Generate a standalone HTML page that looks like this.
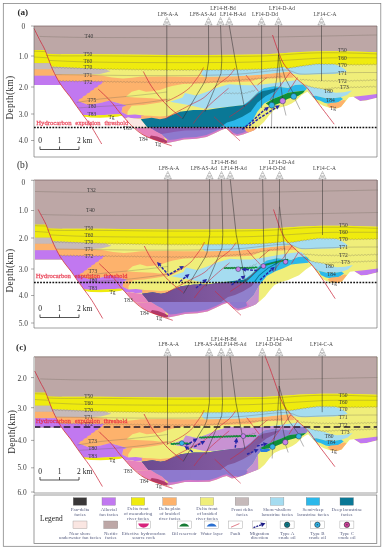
<!DOCTYPE html><html><head><meta charset="utf-8"><title>Figure</title><style>html,body{margin:0;padding:0;background:#fff}svg{display:block}</style></head><body><svg width="384" height="550" viewBox="0 0 384 550" font-family="Liberation Serif, serif"><defs><linearGradient id="dvg" gradientUnits="userSpaceOnUse" x1="140" y1="0" x2="215" y2="0"><stop offset="0" stop-color="#6c4a90"/><stop offset="1" stop-color="#80589e"/></linearGradient></defs>
<rect x="0" y="0" width="384" height="550" fill="#fff"/>
<rect x="3.3" y="3.4" width="377.5" height="542.9" fill="none" stroke="#808080" stroke-width="0.75"/>
<clipPath id="clipa"><polygon points="34.0,26.0 377.0,26.0 377.0,97.7 366.0,100.5 360.0,101.0 356.0,98.5 353.3,96.8 349.0,97.2 345.0,102.0 341.0,107.0 336.7,108.5 330.0,108.0 323.3,105.8 318.5,103.3 312.0,96.5 307.5,91.7 305.0,93.0 301.7,95.0 295.8,100.8 291.7,103.5 286.7,105.8 280.0,107.5 273.5,110.5 269.0,115.5 264.0,122.0 259.0,126.5 254.0,130.3 249.0,132.3 243.0,134.5 237.0,136.0 232.0,133.8 228.0,129.5 226.5,128.2 221.5,130.0 215.3,133.1 206.5,136.9 196.5,138.8 184.0,139.6 175.0,141.5 166.0,143.2 160.0,141.7 152.0,139.0 143.3,135.0 131.7,125.8 125.0,118.5 122.0,115.5 118.0,116.5 112.0,117.2 100.0,117.7 90.0,117.4 83.8,116.5 81.7,113.3 75.0,104.0 70.0,96.7 63.3,88.3 61.2,85.0 34.0,85.0"/></clipPath>
<clipPath id="belowa"><rect x="30" y="127.5" width="350" height="80"/></clipPath>
<g transform="translate(0,0)">
<g clip-path="url(#clipa)">
<rect x="34" y="26" width="343" height="124" fill="#f0ee7a"/>
<polygon points="34.0,26.0 60.0,26.0 62.0,86.0 34.0,86.0" fill="#bda7a6" />
<polygon points="34.0,26.0 377.0,26.0 377.0,52.3 345.0,51.3 321.0,51.2 300.0,52.0 278.0,53.6 262.0,54.4 240.0,54.8 208.0,55.1 166.0,55.0 100.0,54.3 60.0,54.3 46.0,53.8 45.0,50.0 34.0,28.5" fill="#bda7a6" />
<polygon points="46.0,53.8 60.0,54.3 100.0,54.3 166.0,55.0 208.0,55.1 240.0,54.8 262.0,54.4 278.0,53.6 300.0,52.0 321.0,51.2 345.0,51.3 377.0,52.3 377.0,64.4 360.0,64.7 348.0,64.8 334.0,64.2 317.0,64.1 310.0,64.9 300.7,66.2 295.0,67.2 286.0,68.6 284.0,67.0 275.0,68.2 262.0,69.3 240.0,69.8 208.0,70.0 166.0,70.0 100.0,69.0 51.5,67.4 46.7,55.0" fill="#efeb0e" />
<polygon points="34.0,50.0 45.0,50.0 51.0,63.3 34.0,63.3" fill="#efeb0e" />
<polygon points="34.0,63.3 50.0,63.3 53.0,69.2 34.0,69.2" fill="#c6baba" />
<polygon points="34.0,69.2 34.8,68.9 35.6,69.5 36.4,69.5 37.2,68.9 38.0,68.9 38.8,69.5 39.6,69.5 40.4,68.9 41.2,68.9 42.0,69.5 42.8,69.5 43.6,68.9 44.4,68.9 45.2,69.5 46.0,69.5 46.8,68.9 47.6,68.9 48.4,69.5 49.2,69.5 50.0,68.9 50.8,68.9 51.6,69.5 52.4,69.5 56.0,75.8 34.0,75.8" fill="#c6baba" />
<polygon points="34.0,69.2 52.4,69.2 56.0,75.8 34.0,75.8" fill="#fdb26c" />
<polygon points="34.0,75.8 55.8,75.8 61.3,85.2 34.0,85.2" fill="#c178f0" />
<polygon points="51.2,66.5 55.0,74.4 90.0,74.6 100.0,74.0 106.0,72.6 110.5,71.3 107.0,70.0 104.0,69.0 100.0,69.0" fill="#c6baba" />
<polygon points="55.0,74.3 90.0,74.6 102.5,75.8 112.0,77.6 123.0,78.6 132.0,77.8 140.0,76.8 165.0,76.6 183.0,76.7 204.0,76.8 236.0,76.3 260.0,74.8 283.0,72.3 290.0,71.9 294.0,77.5 283.0,78.3 260.0,78.4 250.0,81.5 236.0,82.0 204.0,83.3 183.0,84.0 172.0,86.0 166.7,87.5 160.0,90.0 152.0,91.3 146.0,91.7 139.0,89.7 131.7,91.7 125.8,96.7 135.0,97.5 152.0,98.3 160.0,99.2 166.0,98.5 167.5,100.0 160.0,102.5 143.3,105.0 131.7,105.8 127.5,111.7 127.5,115.0 121.5,112.0 122.5,107.0 126.5,105.5 118.0,103.0 110.5,101.0 106.7,101.8 100.0,103.0 88.0,104.7 77.5,100.8 70.0,96.7 63.3,88.3 57.5,79.2" fill="#fdb26c" />
<polygon points="58.3,81.0 59.1,81.1 59.9,80.6 60.7,80.9 61.5,81.4 62.3,81.1 63.1,80.7 63.9,81.0 64.7,81.5 65.5,81.2 66.3,80.7 67.1,81.0 67.9,81.5 68.7,81.2 69.5,80.7 70.3,81.1 71.1,81.5 71.9,81.2 72.7,80.8 73.5,81.1 74.3,81.6 75.1,81.3 75.9,80.8 76.7,81.1 77.5,81.6 78.3,81.3 79.1,80.8 79.9,81.2 80.7,81.6 81.5,81.3 82.3,80.9 83.1,81.2 83.9,81.7 84.7,81.4 85.5,80.9 86.3,81.2 87.1,81.7 87.9,81.4 88.7,80.9 89.5,81.3 90.3,81.7 91.1,81.4 91.9,81.0 92.7,81.3 93.5,81.8 94.3,81.5 95.1,81.0 95.9,81.3 96.7,81.8 97.5,81.5 98.3,81.0 99.1,81.4 99.9,81.8 100.7,81.5 101.5,81.1 102.3,81.4 103.1,81.9 103.9,81.6 105.3,81.3 101.8,82.7 101.5,84.1 98.0,85.5 97.7,86.8 94.2,88.2 93.9,89.6 90.4,91.0 90.2,92.3 86.7,93.7 86.4,95.1 82.9,96.5 82.6,97.8 79.1,99.2 78.8,100.6 77.5,100.8 88.0,104.7 100.0,103.0 107.0,101.3 110.0,100.5 119.0,111.7 121.5,114.6 118.0,114.3 95.0,115.4 83.0,115.0 81.7,113.3 75.0,104.0 70.0,96.7 63.3,88.3" fill="#c178f0" />
<polygon points="83.0,115.0 95.0,115.4 118.0,114.3 121.5,114.6 122.5,116.0 118.0,116.7 100.0,117.8 90.0,117.5 84.0,116.7" fill="#efeb0e" />
<polygon points="110.5,101.0 118.0,103.0 126.5,105.5 122.5,107.0 121.5,112.0 127.5,115.0 135.0,114.6 143.0,115.5 148.5,117.5 141.7,118.3 134.0,118.4 128.0,117.5 125.0,118.5 119.0,111.7" fill="#c178f0" />
<polygon points="141.0,115.4 150.0,115.8 160.0,116.6 170.0,115.6 178.0,112.6 181.0,111.5 181.0,113.0 170.0,117.0 165.0,119.0 160.0,120.0 151.7,119.0 141.5,119.5" fill="#fdb26c" />
<polygon points="125.0,118.5 128.0,117.5 134.0,118.4 140.8,119.2 147.5,127.6 134.5,128.0 131.7,125.8" fill="#fae6e2" />
<polygon points="203.0,70.0 208.0,70.0 240.0,69.8 262.0,69.3 275.0,68.2 284.0,67.0 289.0,71.5 283.0,72.3 260.0,74.8 236.0,76.3 204.0,76.8 201.0,74.0" fill="#a5dcf0" />
<polygon points="286.0,68.6 295.0,67.2 300.7,66.2 310.0,64.9 317.0,64.1 334.0,64.2 340.0,66.3 345.0,69.3 347.0,71.5 340.0,73.0 334.0,74.0 322.0,74.2 310.0,74.6 300.7,74.8 291.5,73.4" fill="#a5dcf0" />
<polygon points="170.0,101.7 182.5,97.5 185.0,93.0 196.0,95.5 205.0,92.5 216.0,88.0 229.0,84.3 240.0,85.0 250.0,85.2 262.0,84.6 275.0,83.0 288.0,81.2 298.0,80.0 303.0,84.5 295.0,85.0 288.0,88.0 274.0,86.3 264.0,88.0 257.3,92.7 250.0,100.0 244.0,105.0 229.3,106.7 212.7,108.3 204.0,108.6 188.3,105.0" fill="#a5dcf0" />
<polygon points="216.0,127.6 220.0,120.0 232.0,118.0 244.0,104.5 250.0,100.0 257.3,92.7 264.0,88.0 274.0,86.3 288.0,88.0 295.0,85.0 303.0,84.5 307.0,88.5 305.0,90.8 297.0,91.5 288.0,92.7 280.7,96.0 272.3,99.3 264.0,103.5 257.3,111.8 252.3,121.0 245.7,127.6" fill="#2bb8ea" />
<polygon points="140.8,119.2 151.7,117.8 160.0,119.3 165.0,118.3 170.0,116.0 180.0,111.8 193.0,110.0 206.7,110.0 216.0,108.6 229.3,106.7 237.7,105.8 244.3,105.0 249.3,101.7 251.0,100.0 257.3,94.3 262.7,91.0 267.3,90.2 279.0,87.7 274.0,91.8 265.7,96.0 257.3,102.7 250.7,111.8 242.3,116.8 234.0,120.5 227.0,122.5 220.0,127.6 147.5,127.6" fill="#0a7896" />
<polygon points="304.5,84.5 310.0,86.8 318.0,88.3 324.0,89.5 330.0,91.5 336.0,92.8 344.0,92.3 352.0,90.5 347.0,95.0 340.7,97.3 334.0,98.2 325.7,98.2 315.7,95.7 312.0,96.5" fill="#a5dcf0" />
<polygon points="312.0,96.2 315.7,95.7 325.7,98.2 334.0,98.2 340.7,97.3 343.0,99.0 338.0,102.5 331.0,104.0 325.0,103.0 319.8,100.5 316.0,99.5" fill="#2bb8ea" />
<polygon points="326.7,104.8 330.0,102.9 337.0,102.6 343.3,100.0 346.0,100.5 345.0,102.0 341.0,107.0 336.7,108.5 330.0,108.0" fill="#fdb26c" />
<polygon points="353.3,96.8 365.0,95.5 377.0,94.0 377.0,97.7 366.0,100.5 360.0,101.0 356.0,98.5" fill="#c178f0" />
<polygon points="134.5,128.0 150.0,127.6 156.0,131.2 161.3,134.0 164.0,137.0 166.0,143.2 160.0,141.7 152.0,139.0 143.3,135.0" fill="#e884bc" />
<polygon points="151.0,135.4 157.0,136.6 163.0,138.8 167.5,141.0 166.5,143.2 160.0,141.7 152.0,139.0 149.5,137.5" fill="#b03a6a" />
<polygon points="161.3,134.0 156.0,131.2 150.0,127.6 256.0,127.6 256.0,141.0 167.0,143.5 167.0,139.5 164.0,137.0" fill="#d47ac8" />
<polygon points="161.3,134.0 156.0,131.2 150.0,127.6 224.5,127.6 221.5,128.2 215.3,131.2 206.5,135.0 196.5,136.9 184.0,137.7 175.0,139.4 169.0,140.0 166.0,138.0 164.0,136.5" fill="#8e79ce" />
<polygon points="228.3,127.6 229.5,129.2 233.0,132.4 237.0,134.2 243.0,132.7 246.0,131.2 245.0,127.6" fill="#8e79ce" />
<polygon points="150.0,127.6 224.5,127.6 221.5,128.4 212.0,129.6 200.0,130.2 185.0,130.6 175.0,131.8 168.0,133.0 161.3,134.0 156.0,131.2" fill="#8a5cb2" />
<polygon points="244.0,127.6 255.0,127.6 255.0,131.0 249.0,132.5 246.0,131.2" fill="#fdb26c" />
<polygon points="265.7,103.5 272.3,99.3 280.7,96.0 288.0,92.7 297.0,91.5 305.0,90.6 303.0,93.0 298.0,96.0 288.0,98.8 280.7,102.7 274.0,105.3 269.0,105.6" fill="#0f8f3a" />
<path d="M39.5,36.4C42.9,36.5 49.9,36.8 60.0,37.0C70.1,37.2 70.0,37.4 100.0,37.5C130.0,37.6 206.7,37.7 240.0,37.5C273.3,37.3 277.2,36.9 300.0,36.5C322.8,36.1 364.2,35.2 377.0,35.0" fill="none" stroke="#6b6355" stroke-width="0.3" />
<path d="M46.0,55.4C48.3,55.5 51.0,55.8 60.0,55.9C69.0,56.0 82.3,55.8 100.0,55.9C117.7,56.0 148.0,56.5 166.0,56.6C184.0,56.7 195.7,56.7 208.0,56.7C220.3,56.7 231.0,56.5 240.0,56.4C249.0,56.3 255.7,56.2 262.0,56.0C268.3,55.8 271.7,55.6 278.0,55.2C284.3,54.8 292.8,54.0 300.0,53.6C307.2,53.2 313.5,52.9 321.0,52.8C328.5,52.7 335.7,52.7 345.0,52.9C354.3,53.1 371.7,53.7 377.0,53.9" fill="none" stroke="#6b6355" stroke-width="0.3" />
<polyline points="34.0,51.2 45.5,51.6" fill="none" stroke="#6b6355" stroke-width="0.3" />
<path d="M49.0,60.4C55.8,60.7 70.5,61.6 90.0,62.0C109.5,62.4 141.0,62.6 166.0,62.6C191.0,62.6 221.0,62.6 240.0,62.3C259.0,62.0 266.7,61.3 280.0,60.6C293.3,59.9 309.2,58.7 320.0,58.2C330.8,57.7 335.5,57.9 345.0,57.8C354.5,57.7 371.7,57.8 377.0,57.8" fill="none" stroke="#6b6355" stroke-width="0.3" />
<polyline points="34.0,57.0 48.0,57.8" fill="none" stroke="#6b6355" stroke-width="0.3" />
<polyline points="51.5,67.7 52.3,67.8 53.1,67.2 53.9,67.1 54.7,67.8 55.5,67.9 56.3,67.3 57.1,67.2 57.9,67.9 58.7,68.0 59.5,67.4 60.3,67.3 61.1,68.0 61.9,68.1 62.7,67.5 63.5,67.4 64.3,68.1 65.1,68.2 65.9,67.6 66.7,67.5 67.5,68.2 68.3,68.3 69.1,67.7 69.9,67.6 70.7,68.3 71.5,68.4 72.3,67.8 73.1,67.7 73.9,68.4 74.7,68.5 75.5,67.9 76.3,67.8 77.1,68.5 77.9,68.6 78.7,68.0 79.5,67.9 80.3,68.6 81.1,68.8 81.9,68.2 82.7,68.1 83.5,68.7 84.3,68.9 85.1,68.3 85.9,68.2 86.7,68.8 87.5,69.0 88.3,68.4 89.1,68.3 89.9,68.9 90.7,69.1 91.5,68.5 92.3,68.4 93.1,69.0 93.9,69.2 94.7,68.6 95.5,68.5 96.3,69.1 97.1,69.3 97.9,68.7 98.7,68.6 99.5,69.2 100.3,69.4 101.1,68.8 101.9,68.7 102.7,69.3 103.5,69.4 104.3,68.8 105.1,68.7 105.9,69.3 106.7,69.5 107.5,68.9 108.3,68.8 109.1,69.4 109.9,69.5 110.7,68.9 111.5,68.8 112.3,69.4 113.1,69.6 113.9,69.0 114.7,68.8 115.5,69.5 116.3,69.6 117.1,69.0 117.9,68.9 118.7,69.5 119.5,69.7 120.3,69.1 121.1,68.9 121.9,69.6 122.7,69.7 123.5,69.1 124.3,69.0 125.1,69.6 125.9,69.8 126.7,69.2 127.5,69.0 128.3,69.7 129.1,69.8 129.9,69.2 130.7,69.1 131.5,69.7 132.3,69.9 133.1,69.3 133.9,69.1 134.7,69.8 135.5,69.9 136.3,69.3 137.1,69.2 137.9,69.8 138.7,70.0 139.5,69.3 140.3,69.2 141.1,69.9 141.9,70.0 142.7,69.4 143.5,69.3 144.3,69.9 145.1,70.1 145.9,69.4 146.7,69.3 147.5,70.0 148.3,70.1 149.1,69.5 149.9,69.4 150.7,70.0 151.5,70.2 152.3,69.5 153.1,69.4 153.9,70.1 154.7,70.2 155.5,69.6 156.3,69.5 157.1,70.1 157.9,70.3 158.7,69.6 159.5,69.5 160.3,70.2 161.1,70.3 161.9,69.7 162.7,69.6 163.5,70.2 164.3,70.3 165.1,69.7 165.9,69.6 166.7,70.3 167.5,70.4 168.3,69.7 169.1,69.6 169.9,70.3 170.7,70.4 171.5,69.7 172.3,69.6 173.1,70.3 173.9,70.4 174.7,69.7 175.5,69.6 176.3,70.3 177.1,70.4 177.9,69.7 178.7,69.6 179.5,70.3 180.3,70.4 181.1,69.7 181.9,69.6 182.7,70.3 183.5,70.4 184.3,69.7 185.1,69.6 185.9,70.3 186.7,70.4 187.5,69.7 188.3,69.6 189.1,70.3 189.9,70.4 190.7,69.7 191.5,69.6 192.3,70.3 193.1,70.4 193.9,69.7 194.7,69.6 195.5,70.3 196.3,70.4 197.1,69.7 197.9,69.6 198.7,70.3 199.5,70.4 200.3,69.7 201.1,69.6 201.9,70.3 202.7,70.4 203.5,69.7 204.3,69.6 205.1,70.3 205.9,70.4 206.7,69.7 207.5,69.6 208.3,70.2 209.1,70.4 209.9,69.7 210.7,69.6 211.5,70.2 212.3,70.3 213.1,69.7 213.9,69.6 214.7,70.2 215.5,70.3 216.3,69.7 217.1,69.6 217.9,70.2 218.7,70.3 219.5,69.7 220.3,69.5 221.1,70.2 221.9,70.3 222.7,69.7 223.5,69.5 224.3,70.1 225.1,70.3 225.9,69.6 226.7,69.5 227.5,70.1 228.3,70.2 229.1,69.6 229.9,69.5 230.7,70.1 231.5,70.2 232.3,69.6 233.1,69.5 233.9,70.1 234.7,70.2 235.5,69.6 236.3,69.4 237.1,70.1 237.9,70.2 238.7,69.6 239.5,69.4 240.3,70.0 241.1,70.1 241.9,69.5 242.7,69.4 243.5,70.0 244.3,70.1 245.1,69.4 245.9,69.3 246.7,69.9 247.5,70.0 248.3,69.4 249.1,69.2 249.9,69.8 250.7,69.9 251.5,69.3 252.3,69.1 253.1,69.8 253.9,69.9 254.7,69.2 255.5,69.1 256.3,69.7 257.1,69.8 257.9,69.1 258.7,69.0 259.5,69.6 260.3,69.7 261.1,69.1 261.9,68.9 262.7,69.5 263.5,69.5 264.3,68.9 265.1,68.7 265.9,69.2 266.7,69.3 267.5,68.6 268.3,68.4 269.1,68.9 269.9,69.0 270.7,68.3 271.5,68.1 272.3,68.7 273.1,68.7 273.9,68.0 274.7,67.9 275.5,68.4 276.3,68.4 277.1,67.7 277.9,67.4 278.7,68.0 279.5,68.0 280.3,67.2 281.1,67.0 281.9,67.5 282.7,67.5 283.5,66.8" fill="none" stroke="#6b6355" stroke-width="0.3" />
<polyline points="286.0,68.9 286.8,68.2 287.6,68.0 288.4,68.5 289.2,68.4 290.0,67.7 290.8,67.5 291.6,68.0 292.4,67.9 293.2,67.2 294.0,67.0 294.8,67.5 295.6,67.4 296.4,66.6 297.2,66.5 298.0,67.0 298.8,66.9 299.6,66.1 300.4,65.9 301.2,66.4 302.0,66.3 302.8,65.6 303.6,65.5 304.4,66.0 305.2,65.9 306.0,65.1 306.8,65.0 307.6,65.6 308.4,65.4 309.2,64.7 310.0,64.6 310.8,65.1 311.6,65.0 312.4,64.3 313.2,64.2 314.0,64.8 314.8,64.7 315.6,63.9 316.4,63.9 317.2,64.4 318.0,64.4 318.8,63.8 319.6,63.8 320.4,64.4 321.2,64.4 322.0,63.8 322.8,63.8 323.6,64.5 324.4,64.5 325.2,63.8 326.0,63.8 326.8,64.5 327.6,64.5 328.4,63.8 329.2,63.9 330.0,64.5 330.8,64.5 331.6,63.9 332.4,63.9 333.2,64.5 334.0,64.5 334.8,63.9 335.6,64.0 336.4,64.6 337.2,64.7 338.0,64.1 338.8,64.1 339.6,64.8 340.4,64.8 341.2,64.2 342.0,64.2 342.8,64.9 343.6,64.9 344.4,64.3 345.2,64.4 346.0,65.0 346.8,65.1 347.6,64.5 348.4,64.5 349.2,65.1 350.0,65.1 350.8,64.5 351.6,64.5 352.4,65.1 353.2,65.1 354.0,64.4 354.8,64.4 355.6,65.1 356.4,65.0 357.2,64.4 358.0,64.4 358.8,65.0 359.6,65.0 360.4,64.4 361.2,64.4 362.0,65.0 362.8,65.0 363.6,64.3 364.4,64.3 365.2,64.9 366.0,64.9 366.8,64.3 367.6,64.2 368.4,64.9 369.2,64.9 370.0,64.2 370.8,64.2 371.6,64.8 372.4,64.8 373.2,64.1 374.0,64.1 374.8,64.8 375.6,64.7 376.4,64.1" fill="none" stroke="#6b6355" stroke-width="0.3" />
<path d="M55.5,74.6C61.2,74.7 75.9,74.8 90.0,75.0C104.1,75.2 121.7,75.5 140.0,75.6C158.3,75.7 183.3,75.7 200.0,75.4C216.7,75.1 226.2,74.9 240.0,74.0C253.8,73.1 273.0,70.0 283.0,70.0C293.0,70.0 293.8,73.4 300.0,74.0C306.2,74.6 312.5,73.7 320.0,73.5C327.5,73.3 335.5,72.9 345.0,72.7C354.5,72.5 371.7,72.5 377.0,72.5" fill="none" stroke="#6b6355" stroke-width="0.3" />
<polyline points="58.3,81.4 59.1,81.1 59.9,80.6 60.7,80.9 61.5,81.5 62.3,81.1 63.1,80.6 63.9,81.0 64.7,81.5 65.5,81.2 66.3,80.7 67.1,81.0 67.9,81.6 68.7,81.2 69.5,80.7 70.3,81.1 71.1,81.6 71.9,81.3 72.7,80.7 73.5,81.1 74.3,81.7 75.1,81.3 75.9,80.8 76.7,81.2 77.5,81.7 78.3,81.4 79.1,80.8 79.9,81.2 80.7,81.7 81.5,81.4 82.3,80.9 83.1,81.2 83.9,81.8 84.7,81.4 85.5,80.9 86.3,81.3 87.1,81.8 87.9,81.5 88.7,81.0 89.5,81.3 90.3,81.9 91.1,81.5 91.9,81.0 92.7,81.4 93.5,81.9 94.3,81.6 95.1,81.0 95.9,81.4 96.7,81.9 97.5,81.6 98.3,81.1 99.1,81.4 99.9,82.0 100.7,81.6 101.5,81.1 102.3,81.5 103.1,82.0 103.9,81.7 104.7,81.2 105.5,81.5 106.3,82.1 107.1,81.7 107.9,81.2 108.7,81.6 109.5,82.1 110.3,81.8 111.1,81.3 111.9,81.6 112.7,82.2 113.5,81.8 114.3,81.3 115.1,81.7 115.9,82.2 116.7,81.9 117.5,81.4 118.3,81.7 119.1,82.3 119.9,81.9 120.7,81.4 121.5,81.8 122.3,82.3 123.1,82.0 123.9,81.4 124.7,81.8 125.5,82.4 126.3,82.0 127.1,81.5 127.9,81.9 128.7,82.4 129.5,82.1 130.3,81.5 131.1,81.9 131.9,82.4 132.7,82.1 133.5,81.6 134.3,82.0 135.1,82.5 135.9,82.2 136.7,81.6 137.5,82.0 138.3,82.5 139.1,82.2 139.9,81.7 140.7,82.0 141.5,82.6 142.3,82.2 143.1,81.7 143.9,82.1 144.7,82.6 145.5,82.3 146.3,81.8 147.1,82.1 147.9,82.7 148.7,82.3 149.5,81.8 150.3,82.2 151.1,82.7 151.9,82.4 152.7,81.9 153.5,82.2 154.3,82.8 155.1,82.4 155.9,81.9 156.7,82.3 157.5,82.8 158.3,82.5 159.1,82.0 159.9,82.3 160.7,82.9 161.5,82.5 162.3,82.0 163.1,82.4 163.9,82.9 164.7,82.6 165.5,82.1 166.3,82.4 167.1,82.9 167.9,82.6 168.7,82.1 169.5,82.4 170.3,82.9 171.1,82.6 171.9,82.1 172.7,82.4 173.5,82.9 174.3,82.6 175.1,82.1 175.9,82.4 176.7,82.9 177.5,82.6 178.3,82.1 179.1,82.4 179.9,82.9 180.7,82.6 181.5,82.1 182.3,82.4 183.1,82.9 183.9,82.6 184.7,82.1 185.5,82.4 186.3,82.9 187.1,82.6 187.9,82.1 188.7,82.4 189.5,82.9 190.3,82.6 191.1,82.1 191.9,82.4 192.7,82.9 193.5,82.6 194.3,82.1 195.1,82.4 195.9,82.9 196.7,82.6 197.5,82.1 198.3,82.4 199.1,82.9 199.9,82.6 200.7,82.1 201.5,82.4 202.3,82.9 203.1,82.6 203.9,82.1 204.7,82.4 205.5,82.8 206.3,82.4 207.1,81.8 207.9,82.1 208.7,82.6 209.5,82.2 210.3,81.6 211.1,81.9 211.9,82.4 212.7,82.0 213.5,81.4 214.3,81.7 215.1,82.2 215.9,81.8 216.7,81.2 217.5,81.5 218.3,81.9 219.1,81.5 219.9,81.0 220.7,81.3 221.5,81.7 222.3,81.3 223.1,80.7 223.9,81.0 224.7,81.5 225.5,81.1 226.3,80.5 227.1,80.8 227.9,81.3 228.7,80.9 229.5,80.3 230.3,80.6 231.1,81.1 231.9,80.7 232.7,80.1 233.5,80.4 234.3,80.8 235.1,80.4 235.9,79.8 236.7,80.1 237.5,80.6 238.3,80.2 239.1,79.6 239.9,79.9 240.7,80.4 241.5,80.0 242.3,79.4 243.1,79.7 243.9,80.1 244.7,79.7 245.5,79.1 246.3,79.4 247.1,79.9 247.9,79.4 248.7,78.9 249.5,79.1 250.3,79.6 251.1,79.2 251.9,78.6 252.7,78.9 253.5,79.3 254.3,78.9 255.1,78.3 255.9,78.6 256.7,79.1 257.5,78.7 258.3,78.1 259.1,78.4 259.9,78.8 260.7,78.4 261.5,77.8 262.3,78.1 263.1,78.6 263.9,78.1 264.7,77.5 265.5,77.8 266.3,78.3 267.1,77.9 267.9,77.3 268.7,77.6 269.5,78.0 270.3,77.6 271.1,77.0 271.9,77.3 272.7,77.8 273.5,77.4 274.3,76.8 275.1,77.1 275.9,77.5 276.7,77.1 277.5,76.5 278.3,76.8 279.1,77.3 279.9,76.8 280.7,76.2 281.5,76.5 282.3,77.0" fill="none" stroke="#6b6355" stroke-width="0.3" />
<polyline points="300.0,79.0 300.8,79.6 301.6,80.1 302.4,79.7 303.2,79.3 304.0,79.8 304.8,80.3 305.6,79.9 306.4,79.5 307.2,80.0 308.0,80.5 308.8,80.1 309.6,79.7 310.4,80.2 311.2,80.7 312.0,80.3 312.8,79.9 313.6,80.4 314.4,80.9 315.2,80.5 316.0,80.1 316.8,80.6 317.6,81.1 318.4,80.7 319.2,80.3 320.0,80.8 320.8,81.3 321.6,80.8 322.4,80.4 323.2,80.8 324.0,81.3 324.8,80.8 325.6,80.4 326.4,80.9 327.2,81.3 328.0,80.9 328.8,80.4 329.6,80.9 330.4,81.3 331.2,80.9 332.0,80.4 332.8,80.9 333.6,81.4 334.4,80.9 335.2,80.5 336.0,80.9 336.8,81.4 337.6,80.9 338.4,80.5 339.2,81.0 340.0,81.4 340.8,81.0 341.6,80.5 342.4,81.0 343.2,81.4 344.0,81.0 344.8,80.5 345.6,81.0 346.4,81.4 347.2,80.9 348.0,80.5 348.8,80.9 349.6,81.3 350.4,80.8 351.2,80.4 352.0,80.8 352.8,81.2 353.6,80.7 354.4,80.3 355.2,80.7 356.0,81.1 356.8,80.6 357.6,80.2 358.4,80.6 359.2,81.0 360.0,80.5 360.8,80.1 361.6,80.5 362.4,80.9 363.2,80.4 364.0,80.0 364.8,80.4 365.6,80.8 366.4,80.3 367.2,79.9 368.0,80.3 368.8,80.7 369.6,80.2 370.4,79.8 371.2,80.2 372.0,80.6 372.8,80.1 373.6,79.7 374.4,80.1 375.2,80.5 376.0,80.0 376.8,79.6" fill="none" stroke="#6b6355" stroke-width="0.3" />
<polyline points="305.0,85.4 305.8,85.1 306.6,85.1 307.4,85.9 308.2,86.4 309.0,86.0 309.8,86.0 310.6,86.9 311.4,87.3 312.2,87.0 313.0,87.0 313.8,87.8 314.6,88.2 315.4,87.7 316.2,87.5 317.0,88.2 317.8,88.5 318.6,88.0 319.4,87.9 320.2,88.6 321.0,88.9 321.8,88.4 322.6,88.2 323.4,88.9 324.2,89.2 325.0,88.5 325.8,88.2 326.6,88.8 327.4,88.9 328.2,88.3 329.0,88.0 329.8,88.5 330.6,88.7 331.4,88.0 332.2,87.7 333.0,88.3 333.8,88.4 334.6,87.8 335.4,87.5 336.2,88.1 337.0,88.3 337.8,87.7 338.6,87.4 339.4,88.0 340.2,88.2 341.0,87.6 341.8,87.3 342.6,87.9 343.4,88.1 344.2,87.5 345.0,87.2 345.8,87.7 346.6,88.0 347.4,87.3 348.2,87.1 349.0,87.6 349.8,87.9 350.6,87.2 351.4,87.0 352.2,87.5 353.0,87.7 353.8,87.1 354.6,86.9 355.4,87.4 356.2,87.6 357.0,87.0 357.8,86.7 358.6,87.3 359.4,87.5 360.2,86.9 361.0,86.6 361.8,87.2 362.6,87.4 363.4,86.8 364.2,86.5 365.0,87.1 365.8,87.3 366.6,86.7 367.4,86.4 368.2,87.0 369.0,87.2 369.8,86.6 370.6,86.3 371.4,86.9 372.2,87.1 373.0,86.5 373.8,86.2 374.6,86.8 375.4,87.0 376.2,86.4" fill="none" stroke="#6b6355" stroke-width="0.3" />
<polyline points="224.0,93.3 224.8,93.8 225.6,93.3 226.4,92.8 227.2,93.3 228.0,93.8 228.8,93.3 229.6,92.8 230.4,93.3 231.2,93.8 232.0,93.3 232.8,92.8 233.6,93.3 234.4,93.8 235.2,93.3 236.0,92.8 236.8,93.3 237.6,93.8 238.4,93.3 239.2,92.8 240.0,93.3 240.8,93.8 241.6,93.3 242.4,92.8 243.2,93.3 244.0,93.8 244.8,93.3 245.6,92.7 246.4,92.9 247.2,93.1 248.0,92.4 248.8,91.7 249.6,91.9 250.4,92.1 251.2,91.4 252.0,90.7 252.8,91.0 253.6,91.2 254.4,90.5 255.2,89.8" fill="none" stroke="#6b6355" stroke-width="0.3" />
<path d="M76.7,102.5C80.6,101.9 92.1,100.0 100.0,99.0C107.9,98.0 115.7,97.5 124.0,96.7C132.3,95.9 142.8,94.8 150.0,94.0C157.2,93.2 164.2,92.3 167.0,92.0" fill="none" stroke="#6b6355" stroke-width="0.3" />
<path d="M76.0,108.0C80.0,107.8 92.0,107.0 100.0,106.5C108.0,106.0 115.7,105.8 124.0,105.0C132.3,104.2 142.3,103.0 150.0,102.0C157.7,101.0 166.7,99.5 170.0,99.0" fill="none" stroke="#6b6355" stroke-width="0.3" />
</g>
<path d="M34.0,28.5C34.9,30.3 37.7,35.9 39.5,39.5C41.3,43.1 43.0,45.5 45.0,50.0C47.0,54.5 49.2,61.6 51.3,66.5C53.4,71.4 55.5,75.6 57.5,79.2C59.5,82.8 61.2,85.4 63.3,88.3C65.4,91.2 68.0,94.1 70.0,96.7C72.0,99.3 73.0,101.2 75.0,104.0C77.0,106.8 79.1,109.7 81.7,113.3C84.3,116.9 87.5,120.7 90.8,125.8C94.1,130.9 99.9,141.0 101.7,144.0" fill="none" stroke="#cc2a3e" stroke-width="0.75" />
<path d="M98.3,89.2C100.2,91.1 106.5,96.8 110.0,100.5C113.5,104.2 116.5,108.7 119.0,111.7C121.5,114.7 122.9,116.2 125.0,118.5C127.1,120.8 128.6,123.0 131.7,125.8C134.8,128.6 138.6,132.3 143.3,135.0C148.0,137.7 155.3,139.9 160.0,141.7C164.7,143.5 169.8,145.1 171.7,145.8" fill="none" stroke="#cc2a3e" stroke-width="0.75" />
<path d="M143.3,71.5C144.4,73.6 147.8,80.4 150.0,84.0C152.2,87.6 153.8,89.7 156.7,93.3C159.6,96.9 163.9,102.2 167.5,105.8C171.1,109.4 175.9,113.0 178.3,115.0C180.7,117.0 181.4,117.5 182.0,118.0" fill="none" stroke="#cc2a3e" stroke-width="0.75" />
<path d="M272.5,35.0C274.0,39.2 278.8,53.9 281.7,60.0C284.6,66.1 287.2,68.4 290.0,71.7C292.8,75.0 295.4,77.2 298.3,80.0C301.2,82.8 304.2,84.4 307.5,88.3C310.8,92.2 313.9,97.3 318.3,103.3C322.8,109.3 331.6,120.7 334.2,124.2" fill="none" stroke="#cc2a3e" stroke-width="0.75" />
<path d="M203.5,67.5C202.9,68.6 201.4,71.8 200.0,74.0C198.6,76.2 196.7,78.8 195.0,81.0C193.3,83.2 192.2,85.4 190.0,87.5C187.8,89.6 184.8,91.7 182.0,93.5C179.2,95.3 176.0,96.9 173.3,98.3C170.6,99.7 167.1,101.1 165.8,101.7" fill="none" stroke="#cc2a3e" stroke-width="0.6" />
<path d="M235.0,68.0C234.0,69.3 232.2,73.0 229.0,76.0C225.8,79.0 220.2,82.4 216.0,86.0C211.8,89.6 208.3,94.3 204.0,97.5C199.7,100.7 194.8,102.4 190.0,105.0C185.2,107.6 179.2,110.7 175.0,113.0C170.8,115.3 166.7,118.0 165.0,119.0" fill="none" stroke="#cc2a3e" stroke-width="0.6" />
<path d="M228.5,88.3C226.4,90.1 219.8,95.7 216.0,99.0C212.2,102.3 208.8,105.5 206.0,108.3C203.2,111.1 201.1,113.5 199.0,116.0C196.9,118.5 194.2,122.2 193.3,123.5" fill="none" stroke="#cc2a3e" stroke-width="0.6" />
<path d="M246.0,75.0C247.0,76.3 249.9,80.2 252.0,83.0C254.1,85.8 257.4,90.1 258.5,91.5" fill="none" stroke="#cc2a3e" stroke-width="0.6" />
<path d="M258.5,93.3C256.1,95.5 249.2,102.5 244.3,106.5C239.4,110.5 231.8,115.2 229.3,117.0" fill="none" stroke="#cc2a3e" stroke-width="0.6" />
<path d="M214.0,116.7C215.8,118.4 220.7,123.0 225.0,127.0C229.3,131.0 237.5,138.5 240.0,140.8" fill="none" stroke="#cc2a3e" stroke-width="0.6" />
<path d="M290.0,72.5C288.8,74.1 285.5,78.6 283.0,82.0C280.5,85.4 277.2,90.0 275.0,93.0C272.8,96.0 270.8,98.8 270.0,100.0" fill="none" stroke="#cc2a3e" stroke-width="0.6" />
<polyline points="297.5,77.5 288.3,91.7" fill="none" stroke="#cc2a3e" stroke-width="0.6" />
<polyline points="257.5,85.0 266.7,77.5" fill="none" stroke="#cc2a3e" stroke-width="0.6" />
<polyline points="166.8,25.0 166.8,116.7" fill="none" stroke="#2a2a2a" stroke-width="0.5" />
<path d="M163.20000000000002,25 L166.8,17.3 L170.4,25 Z M164.70000000000002,21.8 L168.9,21.8 M164.70000000000002,21.8 L170.4,25 M168.9,21.8 L163.20000000000002,25 M165.8,19.5 L167.8,19.5" fill="none" stroke="#909090" stroke-width="0.45"/>
<text x="168.0" y="15.5" font-size="5.4" fill="#444" text-anchor="middle" >LF8-A-A</text>
<polyline points="208.5,25.0 208.7,60.0 206.0,78.3 204.0,83.0 197.7,93.3 182.5,119.0" fill="none" stroke="#2a2a2a" stroke-width="0.5" />
<path d="M204.9,25 L208.5,17.3 L212.1,25 Z M206.4,21.8 L210.6,21.8 M206.4,21.8 L212.1,25 M210.6,21.8 L204.9,25 M207.5,19.5 L209.5,19.5" fill="none" stroke="#909090" stroke-width="0.45"/>
<text x="202.8" y="15.5" font-size="5.4" fill="#444" text-anchor="middle" >LF8-AS-Ad</text>
<polyline points="220.5,25.0 221.8,60.0 221.0,73.3 212.7,93.3 205.0,111.7" fill="none" stroke="#2a2a2a" stroke-width="0.5" />
<path d="M216.9,25 L220.5,17.3 L224.1,25 Z M218.4,21.8 L222.6,21.8 M218.4,21.8 L224.1,25 M222.6,21.8 L216.9,25 M219.5,19.5 L221.5,19.5" fill="none" stroke="#909090" stroke-width="0.45"/>
<text x="223.0" y="9.8" font-size="5.4" fill="#444" text-anchor="middle" >LF14-H-Bd</text>
<polyline points="229.2,25.0 235.2,60.0 244.3,106.7" fill="none" stroke="#2a2a2a" stroke-width="0.5" />
<path d="M225.6,25 L229.2,17.3 L232.79999999999998,25 Z M227.1,21.8 L231.29999999999998,21.8 M227.1,21.8 L232.79999999999998,25 M231.29999999999998,21.8 L225.6,25 M228.2,19.5 L230.2,19.5" fill="none" stroke="#909090" stroke-width="0.45"/>
<text x="232.8" y="15.5" font-size="5.4" fill="#444" text-anchor="middle" >LF14-H-Ad</text>
<polyline points="261.6,25.0 261.6,108.0" fill="none" stroke="#2a2a2a" stroke-width="0.5" />
<path d="M258.0,25 L261.6,17.3 L265.20000000000005,25 Z M259.5,21.8 L263.70000000000005,21.8 M259.5,21.8 L265.20000000000005,25 M263.70000000000005,21.8 L258.0,25 M260.6,19.5 L262.6,19.5" fill="none" stroke="#909090" stroke-width="0.45"/>
<text x="265.0" y="15.5" font-size="5.4" fill="#444" text-anchor="middle" >LF14-D-Dd</text>
<polyline points="278.5,25.0 278.5,55.0" fill="none" stroke="#2a2a2a" stroke-width="0.5" />
<path d="M274.9,25 L278.5,17.3 L282.1,25 Z M276.4,21.8 L280.6,21.8 M276.4,21.8 L282.1,25 M280.6,21.8 L274.9,25 M277.5,19.5 L279.5,19.5" fill="none" stroke="#909090" stroke-width="0.45"/>
<text x="282.0" y="9.8" font-size="5.4" fill="#444" text-anchor="middle" >LF14-D-Ad</text>
<polyline points="321.5,25.0 321.5,81.0" fill="none" stroke="#2a2a2a" stroke-width="0.5" />
<path d="M317.9,25 L321.5,17.3 L325.1,25 Z M319.4,21.8 L323.6,21.8 M319.4,21.8 L325.1,25 M323.6,21.8 L317.9,25 M320.5,19.5 L322.5,19.5" fill="none" stroke="#909090" stroke-width="0.45"/>
<text x="325.0" y="15.5" font-size="5.4" fill="#444" text-anchor="middle" >LF14-C-A</text>
<path d="M242.3,129.3C244.0,127.9 249.0,123.9 252.3,121.0C255.6,118.1 260.1,113.7 262.3,111.8C264.5,109.9 264.9,109.8 265.5,109.4" fill="none" stroke="#2626a6" stroke-width="1.5" stroke-dasharray="2.8 1.3"/><polygon points="269.0,106.8 266.8,111.2 264.2,107.7" fill="#2626a6"/>
<path d="M249.0,126.0C250.7,124.8 255.5,120.9 259.0,118.5C262.5,116.1 267.2,113.3 270.0,111.5C272.8,109.7 275.1,108.2 276.1,107.6" fill="none" stroke="#2626a6" stroke-width="1.5" stroke-dasharray="2.8 1.3"/><polygon points="279.8,105.2 277.3,109.4 274.9,105.7" fill="#2626a6"/>
<polyline points="278.5,55.0 276.5,80.0 272.5,102.0" fill="none" stroke="#2a2a2a" stroke-width="0.45" />
<polyline points="278.5,55.0 280.0,80.0 282.5,98.0" fill="none" stroke="#2a2a2a" stroke-width="0.45" />
<polyline points="278.5,55.0 285.0,78.0 293.5,93.5" fill="none" stroke="#2a2a2a" stroke-width="0.45" />
<polyline points="271.8,108.0 271.5,126.5" fill="none" stroke="#555" stroke-width="0.45" />
<polyline points="283.2,103.8 286.0,115.5" fill="none" stroke="#555" stroke-width="0.45" />
<polyline points="295.0,99.0 300.0,109.5" fill="none" stroke="#555" stroke-width="0.45" />
<circle cx="271.8" cy="105.2" r="2.9" fill="#35b6e6" stroke="#20304a" stroke-width="0.45"/>
<circle cx="282.6" cy="100.9" r="2.9" fill="#c880e8" stroke="#20304a" stroke-width="0.45"/>
<circle cx="293.7" cy="96.4" r="2.9" fill="#35b6e6" stroke="#20304a" stroke-width="0.45"/>
<text x="83.5" y="55.5" font-size="5.5" fill="#3a3a3a" text-anchor="start" >T50</text>
<text x="83.5" y="62.6" font-size="5.5" fill="#3a3a3a" text-anchor="start" >T60</text>
<text x="83.5" y="69.3" font-size="5.5" fill="#3a3a3a" text-anchor="start" >T70</text>
<text x="83.5" y="76.8" font-size="5.5" fill="#3a3a3a" text-anchor="start" >T71</text>
<text x="83.5" y="83.5" font-size="5.5" fill="#3a3a3a" text-anchor="start" >T72</text>
<text x="87.5" y="101.8" font-size="5.5" fill="#3a3a3a" text-anchor="start" >T75</text>
<text x="87.5" y="107.6" font-size="5.5" fill="#3a3a3a" text-anchor="start" >T80</text>
<text x="87.5" y="115.8" font-size="5.5" fill="#3a3a3a" text-anchor="start" >T83</text>
<text x="108.5" y="119.3" font-size="5.5" fill="#3a3a3a" text-anchor="start" >Tg</text>
<text x="123" y="130" font-size="5.5" fill="#3a3a3a" text-anchor="start" >T83</text>
<text x="139" y="140.8" font-size="5.5" fill="#3a3a3a" text-anchor="start" >T84</text>
<text x="155" y="145.5" font-size="5.5" fill="#3a3a3a" text-anchor="start" >Tg</text>
<text x="338" y="52.3" font-size="5.5" fill="#3a3a3a" text-anchor="start" >T50</text>
<text x="338" y="59.5" font-size="5.5" fill="#3a3a3a" text-anchor="start" >T60</text>
<text x="338" y="66.8" font-size="5.5" fill="#3a3a3a" text-anchor="start" >T70</text>
<text x="338" y="74.5" font-size="5.5" fill="#3a3a3a" text-anchor="start" >T71</text>
<text x="338" y="82.8" font-size="5.5" fill="#3a3a3a" text-anchor="start" >T72</text>
<text x="340" y="89.2" font-size="5.5" fill="#3a3a3a" text-anchor="start" >T73</text>
<text x="324" y="93.2" font-size="5.5" fill="#3a3a3a" text-anchor="start" >T80</text>
<text x="326" y="101.5" font-size="5.5" fill="#3a3a3a" text-anchor="start" >T84</text>
<text x="330" y="110.3" font-size="5.5" fill="#3a3a3a" text-anchor="start" >Tg</text>
<text x="84.5" y="38" font-size="5.5" fill="#3a3a3a" text-anchor="start" >T40</text>
</g>
<path d="M34,26 V157 H377 V26" fill="none"  stroke="#6e6e6e" stroke-width="0.65"/>
<line x1="34" x2="377" y1="26" y2="26" stroke="#75605f" stroke-width="0.7"/>
<line x1="31" x2="34" y1="26" y2="26" stroke="#555" stroke-width="0.5"/>
<text x="23.3" y="28.5" font-size="7.4" fill="#3c3c3c" text-anchor="middle" >0</text>
<line x1="31" x2="34" y1="56" y2="56" stroke="#555" stroke-width="0.5"/>
<text x="23.3" y="58.5" font-size="7.4" fill="#3c3c3c" text-anchor="middle" >1.0</text>
<line x1="31" x2="34" y1="87" y2="87" stroke="#555" stroke-width="0.5"/>
<text x="23.3" y="89.5" font-size="7.4" fill="#3c3c3c" text-anchor="middle" >2.0</text>
<line x1="31" x2="34" y1="114" y2="114" stroke="#555" stroke-width="0.5"/>
<text x="23.3" y="116.5" font-size="7.4" fill="#3c3c3c" text-anchor="middle" >3.0</text>
<line x1="31" x2="34" y1="140.5" y2="140.5" stroke="#555" stroke-width="0.5"/>
<text x="23.3" y="143.0" font-size="7.4" fill="#3c3c3c" text-anchor="middle" >4.0</text>
<text x="17.4" y="14.5" font-size="9.2" fill="#2a2a2a" text-anchor="start"  font-weight="bold">(a)</text>
 <text transform="translate(13.2,97.5) rotate(-90)" font-size="9.3" letter-spacing="0.35" fill="#2a2a2a" text-anchor="middle">Depth(km)</text>
<line x1="34" x2="377" y1="127.5" y2="127.5" stroke="#111" stroke-width="1.6" stroke-dasharray="1.75 1.32"/>
<text x="36.3" y="124.6" font-size="7" fill="#e6243c" text-anchor="start" textLength="35.2" lengthAdjust="spacingAndGlyphs" stroke="#e6243c" stroke-width="0.28" opacity="0.8">Hydrocarbon</text>
<text x="75.3" y="124.6" font-size="7" fill="#e6243c" text-anchor="start" textLength="25.3" lengthAdjust="spacingAndGlyphs" stroke="#e6243c" stroke-width="0.28" opacity="0.8">expulsion</text>
<text x="104.4" y="124.6" font-size="7" fill="#e6243c" text-anchor="start" textLength="23.7" lengthAdjust="spacingAndGlyphs" stroke="#e6243c" stroke-width="0.28" opacity="0.8">threshold</text>
<path d="M40,146.5 V149.5 H79 V146.5 M59.5,146.5 V149.5" fill="none" stroke="#2a2a2a" stroke-width="0.8"/>
<text x="40" y="143.0" font-size="7.5" fill="#222" text-anchor="middle" >0</text>
<text x="59.5" y="143.0" font-size="7.5" fill="#222" text-anchor="middle" >1</text>
<text x="77" y="143.0" font-size="7.5" fill="#222" text-anchor="start" >2 km</text>
<clipPath id="clipb"><polygon points="34.0,5.5 377.0,5.5 377.0,97.7 366.0,100.5 360.0,101.0 356.0,98.5 353.3,96.8 349.0,97.2 345.0,102.0 341.0,107.0 336.7,108.5 330.0,108.0 323.3,105.8 320.0,103.0 314.0,95.0 311.0,91.0 308.5,92.6 304.5,95.3 298.0,100.8 291.7,103.5 286.7,105.8 280.0,107.5 273.5,110.5 269.0,115.5 264.0,122.0 259.0,126.5 254.0,130.3 249.0,132.3 243.0,134.5 237.0,136.0 232.0,133.8 228.0,129.5 226.5,128.2 221.5,130.0 215.3,133.1 206.5,136.9 196.5,138.8 184.0,139.6 175.0,141.5 166.0,143.2 160.0,141.7 152.0,139.0 143.3,135.0 131.7,125.8 125.0,118.5 122.0,115.5 118.0,116.5 112.0,117.2 100.0,117.7 90.0,117.4 83.8,116.5 81.7,113.3 75.0,104.0 70.0,96.7 63.3,88.3 61.2,85.0 34.0,85.0"/></clipPath>
<clipPath id="belowb"><rect x="30" y="108" width="350" height="80"/></clipPath>
<g transform="translate(1,174.5)">
<g clip-path="url(#clipb)">
<rect x="34" y="5.5" width="343" height="144.5" fill="#f0ee7a"/>
<polygon points="34.0,5.5 60.0,5.5 62.0,86.0 34.0,86.0" fill="#bda7a6" />
<polygon points="34.0,5.5 377.0,5.5 377.0,52.3 345.0,51.3 321.0,51.2 300.0,52.0 278.0,53.6 262.0,54.4 240.0,54.8 208.0,55.1 166.0,55.0 100.0,54.3 60.0,54.3 46.0,53.8 45.0,50.0 34.0,28.5" fill="#bda7a6" />
<polygon points="46.0,53.8 60.0,54.3 100.0,54.3 166.0,55.0 208.0,55.1 240.0,54.8 262.0,54.4 278.0,53.6 300.0,52.0 321.0,51.2 345.0,51.3 377.0,52.3 377.0,64.4 360.0,64.7 348.0,64.8 334.0,64.2 317.0,64.1 310.0,64.9 300.7,66.2 295.0,67.2 286.0,68.6 284.0,67.0 275.0,68.2 262.1,69.2 240.0,69.8 208.0,70.0 166.0,70.0 100.0,69.0 51.5,67.4 46.7,55.0" fill="#efeb0e" />
<polygon points="34.0,50.0 45.0,50.0 51.0,63.3 34.0,63.3" fill="#efeb0e" />
<polygon points="34.0,63.3 50.0,63.3 53.0,69.2 34.0,69.2" fill="#c6baba" />
<polygon points="34.0,69.2 34.8,68.9 35.6,69.5 36.4,69.5 37.2,68.9 38.0,68.9 38.8,69.5 39.6,69.5 40.4,68.9 41.2,68.9 42.0,69.5 42.8,69.5 43.6,68.9 44.4,68.9 45.2,69.5 46.0,69.5 46.8,68.9 47.6,68.9 48.4,69.5 49.2,69.5 50.0,68.9 50.8,68.9 51.6,69.5 52.4,69.5 56.0,75.8 34.0,75.8" fill="#c6baba" />
<polygon points="34.0,69.2 52.4,69.2 56.0,75.8 34.0,75.8" fill="#fdb26c" />
<polygon points="34.0,75.8 55.8,75.8 61.3,85.2 34.0,85.2" fill="#c178f0" />
<polygon points="51.2,66.5 55.0,74.4 90.0,74.6 100.0,74.0 106.0,72.6 110.5,71.3 107.0,70.0 104.0,69.0 100.0,69.0" fill="#c6baba" />
<polygon points="55.0,74.3 90.0,74.6 102.5,75.8 112.0,77.6 123.0,78.6 132.0,77.8 140.0,76.8 165.0,76.6 183.0,76.7 204.0,76.8 236.0,76.3 261.0,73.6 284.0,71.1 290.9,70.9 296.2,74.9 285.2,75.7 261.2,77.0 250.2,81.3 236.0,82.0 204.0,83.3 183.0,84.0 172.0,86.0 166.7,87.5 160.0,90.0 152.0,91.3 146.0,91.7 139.0,89.7 131.7,91.7 125.8,96.7 135.0,97.5 152.0,98.3 160.0,99.2 166.0,98.5 167.5,100.0 160.0,102.5 143.3,105.0 131.7,105.8 127.5,111.7 127.5,115.0 121.5,112.0 122.5,107.0 126.5,105.5 118.0,103.0 110.5,101.0 106.7,101.8 100.0,103.0 88.0,104.7 77.5,100.8 70.0,96.7 63.3,88.3 57.5,79.2" fill="#fdb26c" />
<polygon points="58.3,81.0 59.1,81.1 59.9,80.6 60.7,80.9 61.5,81.4 62.3,81.1 63.1,80.7 63.9,81.0 64.7,81.5 65.5,81.2 66.3,80.7 67.1,81.0 67.9,81.5 68.7,81.2 69.5,80.7 70.3,81.1 71.1,81.5 71.9,81.2 72.7,80.8 73.5,81.1 74.3,81.6 75.1,81.3 75.9,80.8 76.7,81.1 77.5,81.6 78.3,81.3 79.1,80.8 79.9,81.2 80.7,81.6 81.5,81.3 82.3,80.9 83.1,81.2 83.9,81.7 84.7,81.4 85.5,80.9 86.3,81.2 87.1,81.7 87.9,81.4 88.7,80.9 89.5,81.3 90.3,81.7 91.1,81.4 91.9,81.0 92.7,81.3 93.5,81.8 94.3,81.5 95.1,81.0 95.9,81.3 96.7,81.8 97.5,81.5 98.3,81.0 99.1,81.4 99.9,81.8 100.7,81.5 101.5,81.1 102.3,81.4 103.1,81.9 103.9,81.6 105.3,81.3 101.8,82.7 101.5,84.1 98.0,85.5 97.7,86.8 94.2,88.2 93.9,89.6 90.4,91.0 90.2,92.3 86.7,93.7 86.4,95.1 82.9,96.5 82.6,97.8 79.1,99.2 78.8,100.6 77.5,100.8 88.0,104.7 100.0,103.0 107.0,101.3 110.0,100.5 119.0,111.7 121.5,114.6 118.0,114.3 95.0,115.4 83.0,115.0 81.7,113.3 75.0,104.0 70.0,96.7 63.3,88.3" fill="#c178f0" />
<polygon points="83.0,115.0 95.0,115.4 118.0,114.3 121.5,114.6 122.5,116.0 118.0,116.7 100.0,117.8 90.0,117.5 84.0,116.7" fill="#efeb0e" />
<polygon points="110.5,101.0 118.0,103.0 126.5,105.5 122.5,107.0 121.5,112.0 127.5,115.0 135.0,114.6 143.0,115.5 148.5,117.5 141.7,118.3 134.0,118.4 128.0,117.5 125.0,118.5 119.0,111.7" fill="#c178f0" />
<polygon points="141.0,115.4 150.0,115.8 160.0,116.6 170.0,115.6 178.0,112.6 181.0,111.5 181.0,113.0 170.0,117.0 165.0,119.0 160.0,120.0 151.7,119.0 141.5,119.5" fill="#fdb26c" />
<polygon points="125.0,118.5 128.0,117.5 134.0,118.4 140.8,119.2 147.5,127.6 134.5,128.0 131.7,125.8" fill="#fae6e2" />
<polygon points="203.0,70.0 208.0,70.0 240.0,69.8 262.1,69.2 275.0,68.2 284.0,67.0 289.7,70.6 284.0,71.1 261.0,73.6 236.0,76.3 204.0,76.8 201.0,74.0" fill="#a5dcf0" />
<polygon points="286.0,68.6 295.0,67.2 300.7,66.2 310.0,64.9 317.0,64.1 334.0,64.2 340.0,66.3 345.0,69.3 347.0,71.5 340.0,73.0 334.0,74.0 322.0,74.2 310.0,74.6 300.7,74.8 292.9,71.7" fill="#a5dcf0" />
<polygon points="170.0,101.7 182.5,97.5 185.0,93.0 196.0,95.5 205.0,92.5 216.0,88.0 229.0,84.3 240.0,85.0 250.2,85.0 263.4,82.9 277.2,80.4 290.2,78.6 300.2,77.4 305.2,81.9 297.2,82.4 290.2,85.4 276.2,83.7 265.7,86.0 258.2,91.6 250.2,99.8 244.0,105.0 229.3,106.7 212.7,108.3 204.0,108.6 188.3,105.0" fill="#a5dcf0" />
<polygon points="216.0,127.6 220.0,120.0 232.0,118.0 244.0,104.5 250.2,99.8 258.2,91.6 265.7,86.0 276.2,83.7 290.2,85.4 297.2,82.4 305.2,81.9 309.2,85.9 307.2,88.2 299.2,88.9 290.2,90.1 282.9,93.4 274.5,96.7 265.7,101.5 258.2,110.7 252.4,120.9 245.7,127.6" fill="#2bb8ea" />
<polygon points="140.8,119.2 151.7,117.8 160.0,119.3 165.0,118.3 170.0,116.0 180.0,111.8 193.0,110.0 206.7,110.0 216.0,108.6 229.3,106.7 237.7,105.8 244.3,105.0 249.4,101.5 251.3,99.7 258.2,93.2 264.2,89.2 269.3,87.9 281.2,85.1 276.2,89.2 267.5,93.8 258.2,101.6 250.9,111.5 242.3,116.8 234.0,120.5 227.0,122.5 220.0,127.6 147.5,127.6" fill="#0a7896" />
<polygon points="246.5,106.0 250.7,102.2 253.4,99.5 259.0,94.4 264.6,90.8 270.0,89.0 276.2,87.4 273.2,89.6 266.8,93.3 257.9,100.6 251.3,109.3 246.0,113.6 241.0,116.0 238.0,115.5 243.0,110.0" fill="#2bb8ea" />
<polygon points="304.5,84.5 310.0,86.8 318.0,88.3 324.0,89.5 330.0,91.5 336.0,92.8 344.0,92.3 352.0,90.5 347.0,95.0 340.7,97.3 334.0,98.2 325.7,98.2 315.7,95.7 314.2,93.9" fill="#a5dcf0" />
<polygon points="314.2,93.6 315.7,95.7 325.7,98.2 334.0,98.2 340.7,97.3 343.0,99.0 338.0,102.5 331.0,104.0 325.0,103.0 319.8,100.5 318.2,96.9" fill="#2bb8ea" />
<polygon points="326.7,104.8 330.0,102.9 337.0,102.6 343.3,100.0 346.0,100.5 345.0,102.0 341.0,107.0 336.7,108.5 330.0,108.0" fill="#fdb26c" />
<polygon points="353.3,96.8 365.0,95.5 377.0,94.0 377.0,97.7 366.0,100.5 360.0,101.0 356.0,98.5" fill="#c178f0" />
<polygon points="134.5,128.0 150.0,127.6 156.0,131.2 161.3,134.0 164.0,137.0 166.0,143.2 160.0,141.7 152.0,139.0 143.3,135.0" fill="#e884bc" />
<polygon points="151.0,135.4 157.0,136.6 163.0,138.8 167.5,141.0 166.5,143.2 160.0,141.7 152.0,139.0 149.5,137.5" fill="#b03a6a" />
<polygon points="161.3,134.0 156.0,131.2 150.0,127.6 256.0,127.6 256.0,141.0 167.0,143.5 167.0,139.5 164.0,137.0" fill="#d47ac8" />
<polygon points="161.3,134.0 156.0,131.2 150.0,127.6 224.5,127.6 221.5,128.2 215.3,131.2 206.5,135.0 196.5,136.9 184.0,137.7 175.0,139.4 169.0,140.0 166.0,138.0 164.0,136.5" fill="#8e79ce" />
<polygon points="228.3,127.6 229.5,129.2 233.0,132.4 237.0,134.2 243.0,132.7 246.0,131.2 245.0,127.6" fill="#8e79ce" />
<g clip-path="url(#belowb)">
<polygon points="216.0,127.6 220.0,120.0 232.0,118.0 244.0,104.5 250.2,99.8 258.2,91.6 265.7,86.0 276.2,83.7 290.2,85.4 297.2,82.4 305.2,81.9 309.2,85.9 307.2,88.2 299.2,88.9 290.2,90.1 282.9,93.4 274.5,96.7 265.7,101.5 258.2,110.7 252.4,120.9 245.7,127.6" fill="#9080cc" />
<polygon points="258.2,110.7 257.6,127.5 254.0,130.5 249.0,132.5 245.7,127.6 252.4,120.9" fill="#c591cf" />
<polygon points="140.8,119.2 151.7,117.8 160.0,119.3 165.0,118.3 170.0,116.0 180.0,111.8 193.0,110.0 206.7,110.0 216.0,108.6 229.3,106.7 237.7,105.8 244.3,105.0 249.4,101.5 251.3,99.7 258.2,93.2 264.2,89.2 269.3,87.9 281.2,85.1 276.2,89.2 267.5,93.8 258.2,101.6 250.9,111.5 242.3,116.8 234.0,120.5 227.0,122.5 220.0,127.6 147.5,127.6" fill="url(#dvg)" />
<polygon points="125.0,118.5 128.0,117.5 134.0,118.4 140.8,119.2 147.5,127.6 134.5,128.0 131.7,125.8" fill="#e884bc" />
</g>
<polyline points="223.0,93.3 223.8,93.8 224.6,93.8 225.4,93.2 226.2,93.6 227.0,93.9 227.8,93.3 228.6,93.4 229.4,93.9 230.2,93.4 231.0,93.2 231.8,93.8 232.6,93.6 233.4,93.1 234.2,93.6 235.0,93.7 235.8,93.1 236.6,93.4 237.4,93.8 238.2,93.2 239.0,93.2 239.8,93.7 240.6,93.3 241.4,93.1 242.2,93.7 243.0,93.5 243.8,93.1 244.6,93.6 245.4,93.7 246.2,93.1 247.0,93.4 247.9,93.8 248.7,93.2 249.5,93.2 250.4,93.6 251.3,93.1 252.1,92.9 253.0,93.4 253.9,93.1 254.8,92.6 255.6,93.0 256.5,93.0" fill="none" stroke="#0f8f3a" stroke-width="1.6" />
<polyline points="264.6,90.5 276.2,87.4 287.2,85.0" fill="none" stroke="#0f8f3a" stroke-width="1.5" />
<path d="M34.0,17.0C45.0,17.2 65.7,17.8 100.0,18.0C134.3,18.2 206.7,18.2 240.0,18.0C273.3,17.8 277.2,17.4 300.0,17.0C322.8,16.6 364.2,15.8 377.0,15.5" fill="none" stroke="#6b6355" stroke-width="0.3" />
<path d="M40.0,40.0C43.3,40.1 50.0,40.4 60.0,40.5C70.0,40.6 70.0,40.9 100.0,40.9C130.0,40.9 206.7,41.0 240.0,40.8C273.3,40.6 277.2,40.0 300.0,39.5C322.8,39.0 364.2,38.2 377.0,38.0" fill="none" stroke="#6b6355" stroke-width="0.3" />
<path d="M46.0,55.4C48.3,55.5 51.0,55.8 60.0,55.9C69.0,56.0 82.3,55.8 100.0,55.9C117.7,56.0 148.0,56.5 166.0,56.6C184.0,56.7 195.7,56.7 208.0,56.7C220.3,56.7 231.0,56.5 240.0,56.4C249.0,56.3 255.7,56.2 262.0,56.0C268.3,55.8 271.7,55.6 278.0,55.2C284.3,54.8 292.8,54.0 300.0,53.6C307.2,53.2 313.5,52.9 321.0,52.8C328.5,52.7 335.7,52.7 345.0,52.9C354.3,53.1 371.7,53.7 377.0,53.9" fill="none" stroke="#6b6355" stroke-width="0.3" />
<polyline points="34.0,51.2 45.5,51.6" fill="none" stroke="#6b6355" stroke-width="0.3" />
<path d="M49.0,60.4C55.8,60.7 70.5,61.6 90.0,62.0C109.5,62.4 141.0,62.6 166.0,62.6C191.0,62.6 221.0,62.6 240.0,62.3C259.0,62.0 266.7,61.3 280.0,60.6C293.3,59.9 309.2,58.7 320.0,58.2C330.8,57.7 335.5,57.9 345.0,57.8C354.5,57.7 371.7,57.8 377.0,57.8" fill="none" stroke="#6b6355" stroke-width="0.3" />
<polyline points="34.0,57.0 48.0,57.8" fill="none" stroke="#6b6355" stroke-width="0.3" />
<polyline points="51.5,67.7 52.3,67.8 53.1,67.2 53.9,67.1 54.7,67.8 55.5,67.9 56.3,67.3 57.1,67.2 57.9,67.9 58.7,68.0 59.5,67.4 60.3,67.3 61.1,68.0 61.9,68.1 62.7,67.5 63.5,67.4 64.3,68.1 65.1,68.2 65.9,67.6 66.7,67.5 67.5,68.2 68.3,68.3 69.1,67.7 69.9,67.6 70.7,68.3 71.5,68.4 72.3,67.8 73.1,67.7 73.9,68.4 74.7,68.5 75.5,67.9 76.3,67.8 77.1,68.5 77.9,68.6 78.7,68.0 79.5,67.9 80.3,68.6 81.1,68.8 81.9,68.2 82.7,68.1 83.5,68.7 84.3,68.9 85.1,68.3 85.9,68.2 86.7,68.8 87.5,69.0 88.3,68.4 89.1,68.3 89.9,68.9 90.7,69.1 91.5,68.5 92.3,68.4 93.1,69.0 93.9,69.2 94.7,68.6 95.5,68.5 96.3,69.1 97.1,69.3 97.9,68.7 98.7,68.6 99.5,69.2 100.3,69.4 101.1,68.8 101.9,68.7 102.7,69.3 103.5,69.4 104.3,68.8 105.1,68.7 105.9,69.3 106.7,69.5 107.5,68.9 108.3,68.8 109.1,69.4 109.9,69.5 110.7,68.9 111.5,68.8 112.3,69.4 113.1,69.6 113.9,69.0 114.7,68.8 115.5,69.5 116.3,69.6 117.1,69.0 117.9,68.9 118.7,69.5 119.5,69.7 120.3,69.1 121.1,68.9 121.9,69.6 122.7,69.7 123.5,69.1 124.3,69.0 125.1,69.6 125.9,69.8 126.7,69.2 127.5,69.0 128.3,69.7 129.1,69.8 129.9,69.2 130.7,69.1 131.5,69.7 132.3,69.9 133.1,69.3 133.9,69.1 134.7,69.8 135.5,69.9 136.3,69.3 137.1,69.2 137.9,69.8 138.7,70.0 139.5,69.3 140.3,69.2 141.1,69.9 141.9,70.0 142.7,69.4 143.5,69.3 144.3,69.9 145.1,70.1 145.9,69.4 146.7,69.3 147.5,70.0 148.3,70.1 149.1,69.5 149.9,69.4 150.7,70.0 151.5,70.2 152.3,69.5 153.1,69.4 153.9,70.1 154.7,70.2 155.5,69.6 156.3,69.5 157.1,70.1 157.9,70.3 158.7,69.6 159.5,69.5 160.3,70.2 161.1,70.3 161.9,69.7 162.7,69.6 163.5,70.2 164.3,70.3 165.1,69.7 165.9,69.6 166.7,70.3 167.5,70.4 168.3,69.7 169.1,69.6 169.9,70.3 170.7,70.4 171.5,69.7 172.3,69.6 173.1,70.3 173.9,70.4 174.7,69.7 175.5,69.6 176.3,70.3 177.1,70.4 177.9,69.7 178.7,69.6 179.5,70.3 180.3,70.4 181.1,69.7 181.9,69.6 182.7,70.3 183.5,70.4 184.3,69.7 185.1,69.6 185.9,70.3 186.7,70.4 187.5,69.7 188.3,69.6 189.1,70.3 189.9,70.4 190.7,69.7 191.5,69.6 192.3,70.3 193.1,70.4 193.9,69.7 194.7,69.6 195.5,70.3 196.3,70.4 197.1,69.7 197.9,69.6 198.7,70.3 199.5,70.4 200.3,69.7 201.1,69.6 201.9,70.3 202.7,70.4 203.5,69.7 204.3,69.6 205.1,70.3 205.9,70.4 206.7,69.7 207.5,69.6 208.3,70.2 209.1,70.4 209.9,69.7 210.7,69.6 211.5,70.2 212.3,70.3 213.1,69.7 213.9,69.6 214.7,70.2 215.5,70.3 216.3,69.7 217.1,69.6 217.9,70.2 218.7,70.3 219.5,69.7 220.3,69.5 221.1,70.2 221.9,70.3 222.7,69.7 223.5,69.5 224.3,70.1 225.1,70.3 225.9,69.6 226.7,69.5 227.5,70.1 228.3,70.2 229.1,69.6 229.9,69.5 230.7,70.1 231.5,70.2 232.3,69.6 233.1,69.5 233.9,70.1 234.7,70.2 235.5,69.6 236.3,69.4 237.1,70.1 237.9,70.2 238.7,69.6 239.5,69.4 240.3,70.0 241.1,70.1 241.9,69.5 242.7,69.4 243.5,70.0 244.3,70.1 245.1,69.4 245.9,69.3 246.7,69.9 247.5,70.0 248.3,69.4 249.1,69.2 249.9,69.8 250.7,69.9 251.5,69.3 252.3,69.1 253.1,69.7 254.0,69.8 254.7,69.2 255.5,69.0 256.4,69.6 257.2,69.7 257.9,69.1 258.7,69.0 259.6,69.5 260.4,69.6 261.2,69.0 261.9,68.9 262.8,69.4 263.6,69.4 264.3,68.8 265.1,68.6 266.0,69.1 266.8,69.2 267.5,68.6 268.3,68.4 269.2,68.9 270.0,68.9 270.7,68.3 271.5,68.1 272.3,68.6 273.1,68.7 273.9,68.0 274.7,67.9 275.5,68.4 276.3,68.4 277.1,67.7 277.9,67.4 278.7,68.0 279.5,68.0 280.3,67.2 281.1,67.0 281.9,67.5 282.7,67.5 283.5,66.8" fill="none" stroke="#6b6355" stroke-width="0.3" />
<polyline points="286.1,68.8 286.8,68.2 287.6,68.0 288.4,68.5 289.2,68.4 290.0,67.7 290.8,67.5 291.6,68.0 292.4,67.9 293.2,67.2 294.0,67.0 294.8,67.5 295.6,67.4 296.4,66.6 297.2,66.5 298.0,67.0 298.8,66.9 299.6,66.1 300.4,65.9 301.2,66.4 302.0,66.3 302.8,65.6 303.6,65.5 304.4,66.0 305.2,65.9 306.0,65.1 306.8,65.0 307.6,65.6 308.4,65.4 309.2,64.7 310.0,64.6 310.8,65.1 311.6,65.0 312.4,64.3 313.2,64.2 314.0,64.8 314.8,64.7 315.6,63.9 316.4,63.9 317.2,64.4 318.0,64.4 318.8,63.8 319.6,63.8 320.4,64.4 321.2,64.4 322.0,63.8 322.8,63.8 323.6,64.5 324.4,64.5 325.2,63.8 326.0,63.8 326.8,64.5 327.6,64.5 328.4,63.8 329.2,63.9 330.0,64.5 330.8,64.5 331.6,63.9 332.4,63.9 333.2,64.5 334.0,64.5 334.8,63.9 335.6,64.0 336.4,64.6 337.2,64.7 338.0,64.1 338.8,64.1 339.6,64.8 340.4,64.8 341.2,64.2 342.0,64.2 342.8,64.9 343.6,64.9 344.4,64.3 345.2,64.4 346.0,65.0 346.8,65.1 347.6,64.5 348.4,64.5 349.2,65.1 350.0,65.1 350.8,64.5 351.6,64.5 352.4,65.1 353.2,65.1 354.0,64.4 354.8,64.4 355.6,65.1 356.4,65.0 357.2,64.4 358.0,64.4 358.8,65.0 359.6,65.0 360.4,64.4 361.2,64.4 362.0,65.0 362.8,65.0 363.6,64.3 364.4,64.3 365.2,64.9 366.0,64.9 366.8,64.3 367.6,64.2 368.4,64.9 369.2,64.9 370.0,64.2 370.8,64.2 371.6,64.8 372.4,64.8 373.2,64.1 374.0,64.1 374.8,64.8 375.6,64.7 376.4,64.1" fill="none" stroke="#6b6355" stroke-width="0.3" />
<path d="M55.5,74.6C61.2,74.7 75.9,74.8 90.0,75.0C104.1,75.2 121.7,75.5 140.0,75.6C158.3,75.7 183.3,75.7 200.0,75.4C216.7,75.1 226.1,75.0 240.0,74.0C253.9,73.0 273.3,69.7 283.3,69.7C293.3,69.7 293.9,73.4 300.0,74.0C306.1,74.6 312.5,73.7 320.0,73.5C327.5,73.3 335.5,72.9 345.0,72.7C354.5,72.5 371.7,72.5 377.0,72.5" fill="none" stroke="#6b6355" stroke-width="0.3" />
<polyline points="58.3,81.4 59.1,81.1 59.9,80.6 60.7,80.9 61.5,81.5 62.3,81.1 63.1,80.6 63.9,81.0 64.7,81.5 65.5,81.2 66.3,80.7 67.1,81.0 67.9,81.6 68.7,81.2 69.5,80.7 70.3,81.1 71.1,81.6 71.9,81.3 72.7,80.7 73.5,81.1 74.3,81.7 75.1,81.3 75.9,80.8 76.7,81.2 77.5,81.7 78.3,81.4 79.1,80.8 79.9,81.2 80.7,81.7 81.5,81.4 82.3,80.9 83.1,81.2 83.9,81.8 84.7,81.4 85.5,80.9 86.3,81.3 87.1,81.8 87.9,81.5 88.7,81.0 89.5,81.3 90.3,81.9 91.1,81.5 91.9,81.0 92.7,81.4 93.5,81.9 94.3,81.6 95.1,81.0 95.9,81.4 96.7,81.9 97.5,81.6 98.3,81.1 99.1,81.4 99.9,82.0 100.7,81.6 101.5,81.1 102.3,81.5 103.1,82.0 103.9,81.7 104.7,81.2 105.5,81.5 106.3,82.1 107.1,81.7 107.9,81.2 108.7,81.6 109.5,82.1 110.3,81.8 111.1,81.3 111.9,81.6 112.7,82.2 113.5,81.8 114.3,81.3 115.1,81.7 115.9,82.2 116.7,81.9 117.5,81.4 118.3,81.7 119.1,82.3 119.9,81.9 120.7,81.4 121.5,81.8 122.3,82.3 123.1,82.0 123.9,81.4 124.7,81.8 125.5,82.4 126.3,82.0 127.1,81.5 127.9,81.9 128.7,82.4 129.5,82.1 130.3,81.5 131.1,81.9 131.9,82.4 132.7,82.1 133.5,81.6 134.3,82.0 135.1,82.5 135.9,82.2 136.7,81.6 137.5,82.0 138.3,82.5 139.1,82.2 139.9,81.7 140.7,82.0 141.5,82.6 142.3,82.2 143.1,81.7 143.9,82.1 144.7,82.6 145.5,82.3 146.3,81.8 147.1,82.1 147.9,82.7 148.7,82.3 149.5,81.8 150.3,82.2 151.1,82.7 151.9,82.4 152.7,81.9 153.5,82.2 154.3,82.8 155.1,82.4 155.9,81.9 156.7,82.3 157.5,82.8 158.3,82.5 159.1,82.0 159.9,82.3 160.7,82.9 161.5,82.5 162.3,82.0 163.1,82.4 163.9,82.9 164.7,82.6 165.5,82.1 166.3,82.4 167.1,82.9 167.9,82.6 168.7,82.1 169.5,82.4 170.3,82.9 171.1,82.6 171.9,82.1 172.7,82.4 173.5,82.9 174.3,82.6 175.1,82.1 175.9,82.4 176.7,82.9 177.5,82.6 178.3,82.1 179.1,82.4 179.9,82.9 180.7,82.6 181.5,82.1 182.3,82.4 183.1,82.9 183.9,82.6 184.7,82.1 185.5,82.4 186.3,82.9 187.1,82.6 187.9,82.1 188.7,82.4 189.5,82.9 190.3,82.6 191.1,82.1 191.9,82.4 192.7,82.9 193.5,82.6 194.3,82.1 195.1,82.4 195.9,82.9 196.7,82.6 197.5,82.1 198.3,82.4 199.1,82.9 199.9,82.6 200.7,82.1 201.5,82.4 202.3,82.9 203.1,82.6 203.9,82.1 204.7,82.4 205.5,82.8 206.3,82.4 207.1,81.8 207.9,82.1 208.7,82.6 209.5,82.2 210.3,81.6 211.1,81.9 211.9,82.4 212.7,82.0 213.5,81.4 214.3,81.7 215.1,82.2 215.9,81.8 216.7,81.2 217.5,81.5 218.3,81.9 219.1,81.5 219.9,81.0 220.7,81.3 221.5,81.7 222.3,81.3 223.1,80.7 223.9,81.0 224.7,81.5 225.5,81.1 226.3,80.5 227.1,80.8 227.9,81.3 228.7,80.9 229.5,80.3 230.3,80.6 231.1,81.1 231.9,80.7 232.7,80.1 233.5,80.4 234.3,80.8 235.1,80.4 235.9,79.8 236.7,80.1 237.5,80.6 238.3,80.2 239.1,79.6 239.9,79.9 240.7,80.4 241.5,80.0 242.3,79.4 243.1,79.7 243.9,80.1 244.7,79.7 245.5,79.1 246.3,79.4 247.1,79.8 248.0,79.4 248.8,78.7 249.7,79.0 250.5,79.4 251.4,78.9 252.2,78.2 253.1,78.4 254.0,78.8 254.9,78.3 255.8,77.6 256.6,77.7 257.5,78.1 258.4,77.6 259.3,76.9 260.2,77.0 261.1,77.4 262.0,76.9 262.9,76.2 263.8,76.3 264.7,76.7 265.6,76.2 266.4,75.5 267.3,75.7 268.2,76.1 269.0,75.6 269.9,74.9 270.8,75.1 271.6,75.6 272.4,75.1 273.3,74.5 274.1,74.7 274.9,75.2 275.7,74.8 276.5,74.2 277.3,74.5 278.1,74.9 278.9,74.5 279.7,73.9 280.5,74.2 281.3,74.7 282.1,74.2 282.9,73.7 283.7,74.0 284.5,74.4" fill="none" stroke="#6b6355" stroke-width="0.3" />
<polyline points="300.0,79.0 300.8,79.6 301.6,80.1 302.4,79.7 303.2,79.3 304.0,79.8 304.8,80.3 305.6,79.9 306.4,79.5 307.2,80.0 308.0,80.5 308.8,80.1 309.6,79.7 310.4,80.2 311.2,80.7 312.0,80.3 312.8,79.9 313.6,80.4 314.4,80.9 315.2,80.5 316.0,80.1 316.8,80.6 317.6,81.1 318.4,80.7 319.2,80.3 320.0,80.8 320.8,81.3 321.6,80.8 322.4,80.4 323.2,80.8 324.0,81.3 324.8,80.8 325.6,80.4 326.4,80.9 327.2,81.3 328.0,80.9 328.8,80.4 329.6,80.9 330.4,81.3 331.2,80.9 332.0,80.4 332.8,80.9 333.6,81.4 334.4,80.9 335.2,80.5 336.0,80.9 336.8,81.4 337.6,80.9 338.4,80.5 339.2,81.0 340.0,81.4 340.8,81.0 341.6,80.5 342.4,81.0 343.2,81.4 344.0,81.0 344.8,80.5 345.6,81.0 346.4,81.4 347.2,80.9 348.0,80.5 348.8,80.9 349.6,81.3 350.4,80.8 351.2,80.4 352.0,80.8 352.8,81.2 353.6,80.7 354.4,80.3 355.2,80.7 356.0,81.1 356.8,80.6 357.6,80.2 358.4,80.6 359.2,81.0 360.0,80.5 360.8,80.1 361.6,80.5 362.4,80.9 363.2,80.4 364.0,80.0 364.8,80.4 365.6,80.8 366.4,80.3 367.2,79.9 368.0,80.3 368.8,80.7 369.6,80.2 370.4,79.8 371.2,80.2 372.0,80.6 372.8,80.1 373.6,79.7 374.4,80.1 375.2,80.5 376.0,80.0 376.8,79.6" fill="none" stroke="#6b6355" stroke-width="0.3" />
<polyline points="307.2,82.8 305.8,85.1 306.6,85.1 307.4,85.9 308.2,86.4 309.0,86.0 309.8,86.0 310.6,86.9 311.4,87.3 312.2,87.0 313.0,87.0 313.8,87.8 314.6,88.2 315.4,87.7 316.2,87.5 317.0,88.2 317.8,88.5 318.6,88.0 319.4,87.9 320.2,88.6 321.0,88.9 321.8,88.4 322.6,88.2 323.4,88.9 324.2,89.2 325.0,88.5 325.8,88.2 326.6,88.8 327.4,88.9 328.2,88.3 329.0,88.0 329.8,88.5 330.6,88.7 331.4,88.0 332.2,87.7 333.0,88.3 333.8,88.4 334.6,87.8 335.4,87.5 336.2,88.1 337.0,88.3 337.8,87.7 338.6,87.4 339.4,88.0 340.2,88.2 341.0,87.6 341.8,87.3 342.6,87.9 343.4,88.1 344.2,87.5 345.0,87.2 345.8,87.7 346.6,88.0 347.4,87.3 348.2,87.1 349.0,87.6 349.8,87.9 350.6,87.2 351.4,87.0 352.2,87.5 353.0,87.7 353.8,87.1 354.6,86.9 355.4,87.4 356.2,87.6 357.0,87.0 357.8,86.7 358.6,87.3 359.4,87.5 360.2,86.9 361.0,86.6 361.8,87.2 362.6,87.4 363.4,86.8 364.2,86.5 365.0,87.1 365.8,87.3 366.6,86.7 367.4,86.4 368.2,87.0 369.0,87.2 369.8,86.6 370.6,86.3 371.4,86.9 372.2,87.1 373.0,86.5 373.8,86.2 374.6,86.8 375.4,87.0 376.2,86.4" fill="none" stroke="#6b6355" stroke-width="0.3" />
<polyline points="224.0,93.3 224.8,93.8 225.6,93.3 226.4,92.8 227.2,93.3 228.0,93.8 228.8,93.3 229.6,92.8 230.4,93.3 231.2,93.8 232.0,93.3 232.8,92.8 233.6,93.3 234.4,93.8 235.2,93.3 236.0,92.8 236.8,93.3 237.6,93.8 238.4,93.3 239.2,92.8 240.0,93.3 240.8,93.8 241.6,93.3 242.4,92.8 243.2,93.3 244.0,93.8 244.8,93.3 245.6,92.7 246.4,92.9 247.2,93.0 248.1,92.3 248.9,91.6 249.8,91.7 250.6,91.9 251.5,91.1 252.3,90.3 253.2,90.5 254.1,90.6 255.0,89.8 255.9,89.0" fill="none" stroke="#6b6355" stroke-width="0.3" />
<path d="M76.7,102.5C80.6,101.9 92.1,100.0 100.0,99.0C107.9,98.0 115.7,97.5 124.0,96.7C132.3,95.9 142.8,94.8 150.0,94.0C157.2,93.2 164.2,92.3 167.0,92.0" fill="none" stroke="#6b6355" stroke-width="0.3" />
<path d="M76.0,108.0C80.0,107.8 92.0,107.0 100.0,106.5C108.0,106.0 115.7,105.8 124.0,105.0C132.3,104.2 142.3,103.0 150.0,102.0C157.7,101.0 166.7,99.5 170.0,99.0" fill="none" stroke="#6b6355" stroke-width="0.3" />
</g>
<path d="M37.2,35.0C37.6,35.8 38.2,37.0 39.5,39.5C40.8,42.0 43.0,45.5 45.0,50.0C47.0,54.5 49.2,61.6 51.3,66.5C53.4,71.4 55.5,75.6 57.5,79.2C59.5,82.8 61.2,85.4 63.3,88.3C65.4,91.2 68.0,94.1 70.0,96.7C72.0,99.3 73.0,101.2 75.0,104.0C77.0,106.8 79.1,109.7 81.7,113.3C84.3,116.9 87.5,120.7 90.8,125.8C94.1,130.9 99.9,141.0 101.7,144.0" fill="none" stroke="#cc2a3e" stroke-width="0.75" />
<path d="M98.3,89.2C100.2,91.1 106.5,96.8 110.0,100.5C113.5,104.2 116.5,108.7 119.0,111.7C121.5,114.7 122.9,116.2 125.0,118.5C127.1,120.8 128.6,123.0 131.7,125.8C134.8,128.6 138.6,132.3 143.3,135.0C148.0,137.7 155.3,139.9 160.0,141.7C164.7,143.5 169.8,145.1 171.7,145.8" fill="none" stroke="#cc2a3e" stroke-width="0.75" />
<path d="M143.3,71.5C144.4,73.6 147.8,80.4 150.0,84.0C152.2,87.6 153.8,89.7 156.7,93.3C159.6,96.9 163.9,102.2 167.5,105.8C171.1,109.4 175.9,113.0 178.3,115.0C180.7,117.0 181.4,117.5 182.0,118.0" fill="none" stroke="#cc2a3e" stroke-width="0.75" />
<path d="M272.5,35.0C274.0,39.2 278.6,53.9 281.7,60.0C284.8,66.1 287.9,68.4 291.0,71.7C294.1,75.0 296.8,77.0 300.0,80.0C303.2,83.0 306.6,85.6 310.0,89.5C313.4,93.4 316.5,97.5 320.5,103.3C324.5,109.1 331.9,120.7 334.2,124.2" fill="none" stroke="#cc2a3e" stroke-width="0.75" />
<path d="M203.5,67.5C202.9,68.6 201.4,71.8 200.0,74.0C198.6,76.2 196.7,78.8 195.0,81.0C193.3,83.2 192.2,85.4 190.0,87.5C187.8,89.6 184.8,91.7 182.0,93.5C179.2,95.3 176.0,96.9 173.3,98.3C170.6,99.7 167.1,101.1 165.8,101.7" fill="none" stroke="#cc2a3e" stroke-width="0.6" />
<path d="M235.0,68.0C234.0,69.3 232.2,73.0 229.0,76.0C225.8,79.0 220.2,82.4 216.0,86.0C211.8,89.6 208.3,94.3 204.0,97.5C199.7,100.7 194.8,102.4 190.0,105.0C185.2,107.6 179.2,110.7 175.0,113.0C170.8,115.3 166.7,118.0 165.0,119.0" fill="none" stroke="#cc2a3e" stroke-width="0.6" />
<path d="M228.5,88.3C226.4,90.1 219.8,95.7 216.0,99.0C212.2,102.3 208.8,105.5 206.0,108.3C203.2,111.1 201.1,113.5 199.0,116.0C196.9,118.5 194.2,122.2 193.3,123.5" fill="none" stroke="#cc2a3e" stroke-width="0.6" />
<path d="M246.0,75.0C247.1,76.3 250.1,80.0 252.3,82.6C254.6,85.1 258.3,89.0 259.5,90.3" fill="none" stroke="#cc2a3e" stroke-width="0.6" />
<path d="M259.5,92.1C257.0,94.5 249.3,102.3 244.3,106.5C239.3,110.7 231.8,115.2 229.3,117.0" fill="none" stroke="#cc2a3e" stroke-width="0.6" />
<path d="M214.0,116.7C215.8,118.4 220.7,123.0 225.0,127.0C229.3,131.0 237.5,138.5 240.0,140.8" fill="none" stroke="#cc2a3e" stroke-width="0.6" />
<path d="M291.1,71.2C290.1,72.6 287.5,76.2 285.2,79.4C282.9,82.6 279.4,87.4 277.2,90.4C275.0,93.4 273.0,96.3 272.1,97.5" fill="none" stroke="#cc2a3e" stroke-width="0.6" />
<polyline points="297.5,77.5 290.5,89.1" fill="none" stroke="#cc2a3e" stroke-width="0.6" />
<polyline points="258.4,83.9 268.6,75.2" fill="none" stroke="#cc2a3e" stroke-width="0.6" />
<polyline points="166.8,4.5 166.8,98.0" fill="none" stroke="#2a2a2a" stroke-width="0.5" />
<path d="M163.20000000000002,4.5 L166.8,-3.2 L170.4,4.5 Z M164.70000000000002,1.2999999999999998 L168.9,1.2999999999999998 M164.70000000000002,1.2999999999999998 L170.4,4.5 M168.9,1.2999999999999998 L163.20000000000002,4.5 M165.8,-1.0 L167.8,-1.0" fill="none" stroke="#909090" stroke-width="0.45"/>
<text x="168.0" y="-5.0" font-size="5.4" fill="#444" text-anchor="middle" >LF8-A-A</text>
<polyline points="208.5,4.5 208.7,60.0 206.0,78.3 204.0,83.0 197.7,93.3 182.5,119.0" fill="none" stroke="#2a2a2a" stroke-width="0.5" />
<path d="M204.9,4.5 L208.5,-3.2 L212.1,4.5 Z M206.4,1.2999999999999998 L210.6,1.2999999999999998 M206.4,1.2999999999999998 L212.1,4.5 M210.6,1.2999999999999998 L204.9,4.5 M207.5,-1.0 L209.5,-1.0" fill="none" stroke="#909090" stroke-width="0.45"/>
<text x="202.8" y="-5.0" font-size="5.4" fill="#444" text-anchor="middle" >LF8-AS-Ad</text>
<polyline points="220.5,4.5 221.8,60.0 221.0,73.3 212.7,93.3 205.0,111.7" fill="none" stroke="#2a2a2a" stroke-width="0.5" />
<path d="M216.9,4.5 L220.5,-3.2 L224.1,4.5 Z M218.4,1.2999999999999998 L222.6,1.2999999999999998 M218.4,1.2999999999999998 L224.1,4.5 M222.6,1.2999999999999998 L216.9,4.5 M219.5,-1.0 L221.5,-1.0" fill="none" stroke="#909090" stroke-width="0.45"/>
<text x="223.0" y="-10.7" font-size="5.4" fill="#444" text-anchor="middle" >LF14-H-Bd</text>
<polyline points="229.2,4.5 235.2,60.0 244.3,106.7" fill="none" stroke="#2a2a2a" stroke-width="0.5" />
<path d="M225.6,4.5 L229.2,-3.2 L232.79999999999998,4.5 Z M227.1,1.2999999999999998 L231.29999999999998,1.2999999999999998 M227.1,1.2999999999999998 L232.79999999999998,4.5 M231.29999999999998,1.2999999999999998 L225.6,4.5 M228.2,-1.0 L230.2,-1.0" fill="none" stroke="#909090" stroke-width="0.45"/>
<text x="232.8" y="-5.0" font-size="5.4" fill="#444" text-anchor="middle" >LF14-H-Ad</text>
<polyline points="261.6,4.5 263.0,87.8" fill="none" stroke="#2a2a2a" stroke-width="0.5" />
<path d="M258.0,4.5 L261.6,-3.2 L265.20000000000005,4.5 Z M259.5,1.2999999999999998 L263.70000000000005,1.2999999999999998 M259.5,1.2999999999999998 L265.20000000000005,4.5 M263.70000000000005,1.2999999999999998 L258.0,4.5 M260.6,-1.0 L262.6,-1.0" fill="none" stroke="#909090" stroke-width="0.45"/>
<text x="271.5" y="-5.0" font-size="5.4" fill="#444" text-anchor="middle" >LF14-D-Dd</text>
<polyline points="278.5,4.5 278.5,32.0" fill="none" stroke="#2a2a2a" stroke-width="0.5" />
<path d="M274.9,4.5 L278.5,-3.2 L282.1,4.5 Z M276.4,1.2999999999999998 L280.6,1.2999999999999998 M276.4,1.2999999999999998 L282.1,4.5 M280.6,1.2999999999999998 L274.9,4.5 M277.5,-1.0 L279.5,-1.0" fill="none" stroke="#909090" stroke-width="0.45"/>
<text x="280.6" y="-10.7" font-size="5.4" fill="#444" text-anchor="middle" >LF14-D-Ad</text>
<polyline points="321.5,4.5 321.5,60.5" fill="none" stroke="#2a2a2a" stroke-width="0.5" />
<path d="M317.9,4.5 L321.5,-3.2 L325.1,4.5 Z M319.4,1.2999999999999998 L323.6,1.2999999999999998 M319.4,1.2999999999999998 L325.1,4.5 M323.6,1.2999999999999998 L317.9,4.5 M320.5,-1.0 L322.5,-1.0" fill="none" stroke="#909090" stroke-width="0.45"/>
<text x="323.5" y="-5.0" font-size="5.4" fill="#444" text-anchor="middle" >LF14-C-A</text>
<polyline points="168.0,101.0 158.9,90.8" fill="none" stroke="#2626a6" stroke-width="1.5" stroke-dasharray="2.8 1.3"/><polygon points="156.0,87.5 160.6,89.3 157.3,92.3" fill="#2626a6"/>
<polyline points="169.0,99.5 179.2,93.7" fill="none" stroke="#2626a6" stroke-width="1.5" stroke-dasharray="2.8 1.3"/><polygon points="183.0,91.5 180.3,95.6 178.1,91.8" fill="#2626a6"/>
<polyline points="179.0,107.0 185.0,102.2" fill="none" stroke="#2626a6" stroke-width="1.5" stroke-dasharray="2.8 1.3"/><polygon points="188.5,99.5 186.4,104.0 183.7,100.5" fill="#2626a6"/>
<polyline points="195.0,113.5 202.6,107.3" fill="none" stroke="#2626a6" stroke-width="1.5" stroke-dasharray="2.8 1.3"/><polygon points="206.0,104.5 204.0,109.0 201.2,105.6" fill="#2626a6"/>
<polyline points="230.5,110.5 240.9,103.5" fill="none" stroke="#2626a6" stroke-width="1.5" stroke-dasharray="2.8 1.3"/><polygon points="244.5,101.0 242.1,105.3 239.6,101.7" fill="#2626a6"/>
<polyline points="256.0,96.0 244.9,95.1" fill="none" stroke="#2626a6" stroke-width="1.5" stroke-dasharray="2.8 1.3"/><polygon points="240.5,94.8 245.1,92.9 244.7,97.3" fill="#2626a6"/>
<polyline points="259.0,105.5 270.5,95.1" fill="none" stroke="#2626a6" stroke-width="1.5" stroke-dasharray="2.8 1.3"/><polygon points="273.8,92.2 272.0,96.8 269.1,93.5" fill="#2626a6"/>
<polyline points="278.5,32.0 276.0,80.0 274.5,96.0" fill="none" stroke="#2a2a2a" stroke-width="0.45" />
<polyline points="278.5,32.0 283.0,70.0 284.5,85.0" fill="none" stroke="#2a2a2a" stroke-width="0.45" />
<circle cx="237.2" cy="94.7" r="2.4" fill="#c880e8" stroke="#20304a" stroke-width="0.45"/>
<circle cx="262.4" cy="91.6" r="2.4" fill="#c880e8" stroke="#20304a" stroke-width="0.45"/>
<circle cx="284.5" cy="87.3" r="2.4" fill="#c880e8" stroke="#20304a" stroke-width="0.45"/>
<text x="83.5" y="55.5" font-size="5.5" fill="#3a3a3a" text-anchor="start" >T50</text>
<text x="83.5" y="62.6" font-size="5.5" fill="#3a3a3a" text-anchor="start" >T60</text>
<text x="83.5" y="69.3" font-size="5.5" fill="#3a3a3a" text-anchor="start" >T70</text>
<text x="83.5" y="76.8" font-size="5.5" fill="#3a3a3a" text-anchor="start" >T71</text>
<text x="83.5" y="83.5" font-size="5.5" fill="#3a3a3a" text-anchor="start" >T72</text>
<text x="87.5" y="98.9" font-size="5.5" fill="#3a3a3a" text-anchor="start" >T73</text>
<text x="87.5" y="107.6" font-size="5.5" fill="#3a3a3a" text-anchor="start" >T80</text>
<text x="87.5" y="115.8" font-size="5.5" fill="#3a3a3a" text-anchor="start" >T83</text>
<text x="108.5" y="119.3" font-size="5.5" fill="#3a3a3a" text-anchor="start" >Tg</text>
<text x="123" y="127.8" font-size="5.5" fill="#3a3a3a" text-anchor="start" >T83</text>
<text x="139" y="140.8" font-size="5.5" fill="#3a3a3a" text-anchor="start" >T84</text>
<text x="155" y="145.5" font-size="5.5" fill="#3a3a3a" text-anchor="start" >Tg</text>
<text x="338" y="52.3" font-size="5.5" fill="#3a3a3a" text-anchor="start" >T50</text>
<text x="338" y="59.5" font-size="5.5" fill="#3a3a3a" text-anchor="start" >T60</text>
<text x="338" y="66.8" font-size="5.5" fill="#3a3a3a" text-anchor="start" >T70</text>
<text x="338" y="74.5" font-size="5.5" fill="#3a3a3a" text-anchor="start" >T71</text>
<text x="338" y="82.8" font-size="5.5" fill="#3a3a3a" text-anchor="start" >T72</text>
<text x="340" y="89.2" font-size="5.5" fill="#3a3a3a" text-anchor="start" >T73</text>
<text x="324" y="93.2" font-size="5.5" fill="#3a3a3a" text-anchor="start" >T80</text>
<text x="326" y="101.5" font-size="5.5" fill="#3a3a3a" text-anchor="start" >T84</text>
<text x="330" y="110.3" font-size="5.5" fill="#3a3a3a" text-anchor="start" >Tg</text>
<text x="85" y="37" font-size="5.5" fill="#3a3a3a" text-anchor="start" >T40</text>
<text x="86" y="17" font-size="5.5" fill="#3a3a3a" text-anchor="start" >T32</text>
</g>
<path d="M34,180 V328 H377 V180" fill="none"  stroke="#6e6e6e" stroke-width="0.65"/>
<line x1="34" x2="377" y1="180" y2="180" stroke="#75605f" stroke-width="0.7"/>
<line x1="31" x2="34" y1="180.3" y2="180.3" stroke="#555" stroke-width="0.5"/>
<text x="23.3" y="185.1" font-size="7.4" fill="#3c3c3c" text-anchor="middle" >0</text>
<line x1="31" x2="34" y1="210.5" y2="210.5" stroke="#555" stroke-width="0.5"/>
<text x="23.3" y="213.0" font-size="7.4" fill="#3c3c3c" text-anchor="middle" >1.0</text>
<line x1="31" x2="34" y1="238" y2="238" stroke="#555" stroke-width="0.5"/>
<text x="23.3" y="240.5" font-size="7.4" fill="#3c3c3c" text-anchor="middle" >2.0</text>
<line x1="31" x2="34" y1="269" y2="269" stroke="#555" stroke-width="0.5"/>
<text x="23.3" y="271.5" font-size="7.4" fill="#3c3c3c" text-anchor="middle" >3.0</text>
<line x1="31" x2="34" y1="295.5" y2="295.5" stroke="#555" stroke-width="0.5"/>
<text x="23.3" y="298.0" font-size="7.4" fill="#3c3c3c" text-anchor="middle" >4.0</text>
<line x1="31" x2="34" y1="323" y2="323" stroke="#555" stroke-width="0.5"/>
<text x="23.3" y="325.5" font-size="7.4" fill="#3c3c3c" text-anchor="middle" >5.0</text>
<text x="16.9" y="168" font-size="9.5" fill="#2a2a2a" text-anchor="start" >(b)</text>
 <text transform="translate(13.2,270.6) rotate(-90)" font-size="9.3" letter-spacing="0.35" fill="#2a2a2a" text-anchor="middle">Depth(km)</text>
<line x1="34" x2="377" y1="282.5" y2="282.5" stroke="#111" stroke-width="1.6" stroke-dasharray="1.75 1.32"/>
<text x="35.699999999999996" y="278.2" font-size="7" fill="#e6243c" text-anchor="start" textLength="35.2" lengthAdjust="spacingAndGlyphs" stroke="#e6243c" stroke-width="0.28" opacity="0.8">Hydrocarbon</text>
<text x="74.7" y="278.2" font-size="7" fill="#e6243c" text-anchor="start" textLength="25.3" lengthAdjust="spacingAndGlyphs" stroke="#e6243c" stroke-width="0.28" opacity="0.8">expulsion</text>
<text x="103.80000000000001" y="278.2" font-size="7" fill="#e6243c" text-anchor="start" textLength="23.7" lengthAdjust="spacingAndGlyphs" stroke="#e6243c" stroke-width="0.28" opacity="0.8">threshold</text>
<path d="M40,314.5 V317.5 H79 V314.5 M59.5,314.5 V317.5" fill="none" stroke="#2a2a2a" stroke-width="0.8"/>
<text x="40" y="311.0" font-size="7.5" fill="#222" text-anchor="middle" >0</text>
<text x="59.5" y="311.0" font-size="7.5" fill="#222" text-anchor="middle" >1</text>
<text x="77" y="311.0" font-size="7.5" fill="#222" text-anchor="start" >2 km</text>
<clipPath id="clipc"><polygon points="34.0,14.2 377.0,14.2 377.0,97.7 366.0,100.5 360.0,101.0 356.0,98.5 353.3,96.8 349.0,97.2 345.0,102.0 341.0,107.0 336.7,108.5 330.0,108.0 323.3,105.8 318.5,103.3 312.0,96.5 307.5,91.7 305.0,93.0 301.7,95.0 295.8,100.8 291.7,103.5 286.7,105.8 280.0,107.5 273.5,110.5 269.0,115.5 264.0,122.0 259.0,126.5 254.0,128.3 249.0,130.3 243.0,132.8 238.0,134.5 231.3,136.0 226.0,133.6 222.0,134.6 216.0,137.0 208.6,139.3 196.5,139.6 184.0,139.6 175.0,141.5 166.0,143.2 160.0,141.7 152.0,139.0 143.3,135.0 131.7,125.8 125.0,118.5 122.0,115.5 118.0,116.5 112.0,117.2 100.0,117.7 90.0,117.4 83.8,116.5 81.7,113.3 75.0,104.0 70.0,96.7 63.3,88.3 61.2,85.0 34.0,85.0"/></clipPath>
<clipPath id="belowc"><rect x="30" y="83.8" width="350" height="80"/></clipPath>
<g transform="translate(0.7,342.5)">
<g clip-path="url(#clipc)">
<rect x="34" y="14.25" width="343" height="135.75" fill="#f0ee7a"/>
<polygon points="34.0,14.2 60.0,14.2 62.0,86.0 34.0,86.0" fill="#bda7a6" />
<polygon points="34.0,14.2 377.0,14.2 377.0,52.3 345.0,51.3 321.0,51.2 300.0,52.0 278.0,53.6 262.0,54.4 240.0,54.8 208.0,55.1 166.0,55.0 100.0,54.3 60.0,54.3 46.0,53.8 45.0,50.0 34.0,28.5" fill="#bda7a6" />
<polygon points="46.0,53.8 60.0,54.3 100.0,54.3 166.0,55.0 208.0,55.1 240.0,54.8 262.0,54.4 278.0,53.6 300.0,52.0 321.0,51.2 345.0,51.3 377.0,52.3 377.0,64.4 360.0,64.7 348.0,64.8 334.0,64.2 317.0,64.1 310.0,64.9 300.7,66.2 295.0,67.2 286.0,68.6 284.0,67.0 275.0,68.2 262.0,69.3 240.0,69.8 208.0,70.0 166.0,70.0 100.0,69.0 51.5,67.4 46.7,55.0" fill="#efeb0e" />
<polygon points="34.0,50.0 45.0,50.0 51.0,63.3 34.0,63.3" fill="#efeb0e" />
<polygon points="34.0,63.3 50.0,63.3 53.0,69.2 34.0,69.2" fill="#c6baba" />
<polygon points="34.0,69.2 34.8,68.9 35.6,69.5 36.4,69.5 37.2,68.9 38.0,68.9 38.8,69.5 39.6,69.5 40.4,68.9 41.2,68.9 42.0,69.5 42.8,69.5 43.6,68.9 44.4,68.9 45.2,69.5 46.0,69.5 46.8,68.9 47.6,68.9 48.4,69.5 49.2,69.5 50.0,68.9 50.8,68.9 51.6,69.5 52.4,69.5 56.0,75.8 34.0,75.8" fill="#c6baba" />
<polygon points="34.0,69.2 52.4,69.2 56.0,75.8 34.0,75.8" fill="#fdb26c" />
<polygon points="34.0,75.8 55.8,75.8 61.3,85.2 34.0,85.2" fill="#c178f0" />
<polygon points="51.2,66.5 55.0,74.4 90.0,74.6 100.0,74.0 106.0,72.6 110.5,71.3 107.0,70.0 104.0,69.0 100.0,69.0" fill="#c6baba" />
<polygon points="55.0,74.3 90.0,74.6 102.5,75.8 112.0,77.6 123.0,78.6 132.0,77.8 140.0,76.8 165.0,76.6 183.0,76.7 204.0,76.8 236.0,76.3 260.0,74.8 283.0,72.3 290.0,71.9 294.0,77.5 283.0,78.3 260.0,78.4 250.0,81.5 236.0,82.0 204.0,83.3 183.0,84.0 172.0,86.0 166.7,87.5 160.0,90.0 152.0,91.3 146.0,91.7 139.0,89.7 131.7,91.7 125.8,96.7 135.0,97.5 152.0,98.3 160.0,99.2 166.0,98.5 167.5,100.0 160.0,102.5 143.3,105.0 131.7,105.8 127.5,111.7 127.5,115.0 121.5,112.0 122.5,107.0 126.5,105.5 118.0,103.0 110.5,101.0 106.7,101.8 100.0,103.0 88.0,104.7 77.5,100.8 70.0,96.7 63.3,88.3 57.5,79.2" fill="#fdb26c" />
<polygon points="58.3,81.0 59.1,81.1 59.9,80.6 60.7,80.9 61.5,81.4 62.3,81.1 63.1,80.7 63.9,81.0 64.7,81.5 65.5,81.2 66.3,80.7 67.1,81.0 67.9,81.5 68.7,81.2 69.5,80.7 70.3,81.1 71.1,81.5 71.9,81.2 72.7,80.8 73.5,81.1 74.3,81.6 75.1,81.3 75.9,80.8 76.7,81.1 77.5,81.6 78.3,81.3 79.1,80.8 79.9,81.2 80.7,81.6 81.5,81.3 82.3,80.9 83.1,81.2 83.9,81.7 84.7,81.4 85.5,80.9 86.3,81.2 87.1,81.7 87.9,81.4 88.7,80.9 89.5,81.3 90.3,81.7 91.1,81.4 91.9,81.0 92.7,81.3 93.5,81.8 94.3,81.5 95.1,81.0 95.9,81.3 96.7,81.8 97.5,81.5 98.3,81.0 99.1,81.4 99.9,81.8 100.7,81.5 101.5,81.1 102.3,81.4 103.1,81.9 103.9,81.6 105.3,81.3 101.8,82.7 101.5,84.1 98.0,85.5 97.7,86.8 94.2,88.2 93.9,89.6 90.4,91.0 90.2,92.3 86.7,93.7 86.4,95.1 82.9,96.5 82.6,97.8 79.1,99.2 78.8,100.6 77.5,100.8 88.0,104.7 100.0,103.0 107.0,101.3 110.0,100.5 119.0,111.7 121.5,114.6 118.0,114.3 95.0,115.4 83.0,115.0 81.7,113.3 75.0,104.0 70.0,96.7 63.3,88.3" fill="#c178f0" />
<polygon points="83.0,115.0 95.0,115.4 118.0,114.3 121.5,114.6 122.5,116.0 118.0,116.7 100.0,117.8 90.0,117.5 84.0,116.7" fill="#efeb0e" />
<polygon points="110.5,101.0 118.0,103.0 126.5,105.5 122.5,107.0 121.5,112.0 127.5,115.0 135.0,114.6 143.0,115.5 148.5,117.5 141.7,118.3 134.0,118.4 128.0,117.5 125.0,118.5 119.0,111.7" fill="#c178f0" />
<polygon points="141.0,115.4 150.0,115.8 160.0,116.6 170.0,115.6 178.0,112.6 181.0,111.5 181.0,113.0 170.0,117.0 165.0,119.0 160.0,120.0 151.7,119.0 141.5,119.5" fill="#fdb26c" />
<polygon points="125.0,118.5 128.0,117.5 134.0,118.4 140.8,119.2 147.5,127.6 134.5,128.0 131.7,125.8" fill="#fae6e2" />
<polygon points="203.0,70.0 208.0,70.0 240.0,69.8 262.0,69.3 275.0,68.2 284.0,67.0 289.0,71.5 283.0,72.3 260.0,74.8 236.0,76.3 204.0,76.8 201.0,74.0" fill="#a5dcf0" />
<polygon points="286.0,68.6 295.0,67.2 300.7,66.2 310.0,64.9 317.0,64.1 334.0,64.2 340.0,66.3 345.0,69.3 347.0,71.5 340.0,73.0 334.0,74.0 322.0,74.2 310.0,74.6 300.7,74.8 291.5,73.4" fill="#a5dcf0" />
<polygon points="170.0,101.7 182.5,97.5 185.0,93.0 196.0,95.5 205.0,92.5 216.0,88.0 229.0,84.3 240.0,85.0 250.0,85.2 262.0,84.6 275.0,83.0 288.0,81.2 298.0,80.0 303.0,84.5 295.0,85.0 288.0,88.0 274.0,86.3 264.0,88.0 257.3,92.7 250.0,100.0 244.0,105.0 229.3,106.7 212.7,108.3 204.0,108.6 188.3,105.0" fill="#a5dcf0" />
<polygon points="216.0,127.6 220.0,120.0 232.0,118.0 244.0,104.5 250.0,100.0 257.3,92.7 264.0,88.0 274.0,86.3 288.0,88.0 295.0,85.0 303.0,84.5 307.0,88.5 305.0,90.8 297.0,91.5 288.0,92.7 280.7,96.0 272.3,99.3 264.0,103.5 257.3,111.8 252.3,121.0 245.7,127.6" fill="#2bb8ea" />
<polygon points="140.8,119.2 151.7,117.8 160.0,119.3 165.0,118.3 170.0,116.0 180.0,111.8 193.0,110.0 206.7,110.0 216.0,108.6 229.3,106.7 237.7,105.8 244.3,105.0 249.3,101.7 251.0,100.0 257.3,94.3 262.7,91.0 267.3,90.2 279.0,87.7 274.0,91.8 265.7,96.0 257.3,102.7 250.7,111.8 242.3,116.8 234.0,120.5 227.0,122.5 220.0,127.6 147.5,127.6" fill="#0a7896" />
<polygon points="304.5,84.5 310.0,86.8 318.0,88.3 324.0,89.5 330.0,91.5 336.0,92.8 344.0,92.3 352.0,90.5 347.0,95.0 340.7,97.3 334.0,98.2 325.7,98.2 315.7,95.7 312.0,96.5" fill="#a5dcf0" />
<polygon points="312.0,96.2 315.7,95.7 325.7,98.2 334.0,98.2 340.7,97.3 343.0,99.0 338.0,102.5 331.0,104.0 325.0,103.0 319.8,100.5 316.0,99.5" fill="#2bb8ea" />
<polygon points="326.7,104.8 330.0,102.9 337.0,102.6 343.3,100.0 346.0,100.5 345.0,102.0 341.0,107.0 336.7,108.5 330.0,108.0" fill="#fdb26c" />
<polygon points="353.3,96.8 365.0,95.5 377.0,94.0 377.0,97.7 366.0,100.5 360.0,101.0 356.0,98.5" fill="#c178f0" />
<polygon points="134.5,128.0 150.0,127.6 156.0,131.2 161.3,134.0 164.0,137.0 166.0,143.2 160.0,141.7 152.0,139.0 143.3,135.0" fill="#e884bc" />
<polygon points="151.0,135.4 157.0,136.6 163.0,138.8 167.5,141.0 166.5,143.2 160.0,141.7 152.0,139.0 149.5,137.5" fill="#b03a6a" />
<polygon points="161.3,134.0 156.0,131.2 150.0,127.6 256.0,127.6 256.0,141.0 167.0,143.5 167.0,139.5 164.0,137.0" fill="#d47ac8" />
<polygon points="161.3,134.0 156.0,131.2 150.0,127.6 224.5,127.6 221.5,128.2 215.3,131.2 206.5,135.0 196.5,136.9 184.0,137.7 175.0,139.4 169.0,140.0 166.0,138.0 164.0,136.5" fill="#8e79ce" />
<polygon points="228.3,127.6 229.5,129.2 233.0,132.4 237.0,134.2 243.0,132.7 246.0,131.2 245.0,127.6" fill="#8e79ce" />
<polygon points="190.0,127.6 250.0,127.6 249.0,128.6 243.0,131.0 238.0,132.7 231.3,134.2 226.0,131.8 222.0,132.8 216.0,135.2 208.6,137.5 196.5,137.8 190.0,137.6" fill="#8e79ce" />
<g clip-path="url(#belowc)">
<polygon points="170.0,101.7 182.5,97.5 185.0,93.0 196.0,95.5 205.0,92.5 216.0,88.0 229.0,84.3 240.0,85.0 250.0,85.2 262.0,84.6 275.0,83.0 288.0,81.2 298.0,80.0 303.0,84.5 295.0,85.0 288.0,88.0 274.0,86.3 264.0,88.0 257.3,92.7 250.0,100.0 244.0,105.0 229.3,106.7 212.7,108.3 204.0,108.6 188.3,105.0" fill="#c892d3" />
<polygon points="216.0,127.6 220.0,120.0 232.0,118.0 244.0,104.5 250.0,100.0 257.3,92.7 264.0,88.0 274.0,86.3 288.0,88.0 295.0,85.0 303.0,84.5 307.0,88.5 305.0,90.8 297.0,91.5 288.0,92.7 280.7,96.0 272.3,99.3 264.0,103.5 257.3,111.8 252.3,121.0 245.7,127.6" fill="#9080cc" />
<polygon points="257.3,111.8 257.6,127.5 254.0,130.5 249.0,132.5 245.7,127.6 252.3,121.0" fill="#c591cf" />
<polygon points="140.8,119.2 151.7,117.8 160.0,119.3 165.0,118.3 170.0,116.0 180.0,111.8 193.0,110.0 206.7,110.0 216.0,108.6 229.3,106.7 237.7,105.8 244.3,105.0 249.3,101.7 251.0,100.0 257.3,94.3 262.7,91.0 267.3,90.2 279.0,87.7 274.0,91.8 265.7,96.0 257.3,102.7 250.7,111.8 242.3,116.8 234.0,120.5 227.0,122.5 220.0,127.6 147.5,127.6" fill="url(#dvg)" />
<polygon points="125.0,118.5 128.0,117.5 134.0,118.4 140.8,119.2 147.5,127.6 134.5,128.0 131.7,125.8" fill="#e884bc" />
</g>
<polygon points="259.6,105.4 266.0,102.2 272.3,99.3 280.7,96.0 288.0,92.7 297.0,91.5 305.0,90.6 303.0,92.6 298.0,94.8 288.0,97.6 280.7,101.2 274.0,104.0 268.0,106.0 262.0,106.8" fill="#0f8f3a" />
<polygon points="259.0,106.0 262.0,106.8 268.0,106.0 270.0,107.5 266.0,109.5 260.0,109.5" fill="#2a7fe0" />
<polyline points="170.0,101.8 170.8,101.2 171.6,101.5 172.4,101.8 173.2,101.1 174.0,101.1 174.8,101.6 175.6,101.1 176.4,100.8 177.2,101.4 178.0,101.1 178.8,100.6 179.6,101.1 180.4,101.1 181.2,100.5 182.0,100.8 182.8,101.2 183.6,100.7 184.4,100.8 185.2,101.3 186.0,100.9 186.8,100.8 187.6,101.4 188.4,101.2 189.2,100.8 190.0,101.3" fill="none" stroke="#0f8f3a" stroke-width="1.6" />
<polyline points="198.6,95.4 199.4,94.8 200.2,95.1 201.0,95.4 201.8,94.8 202.6,94.8 203.4,95.3 204.2,94.8 205.0,94.6 205.8,95.1 206.6,94.9 207.4,94.4 208.2,94.9 209.0,94.9 209.8,94.3 210.6,94.6 211.4,94.9 212.2,94.3 213.0,94.3 213.8,94.8 214.6,94.3 215.4,94.1 216.2,94.6 217.0,94.4 217.8,94.0 218.6,94.4 219.4,94.5 220.2,93.9 221.0,94.2 221.8,94.5 222.6,93.9 223.4,94.0 224.2,94.4 225.0,94.0 225.8,93.8 226.6,94.3 227.4,94.1 228.2,93.6 229.0,94.1 229.8,94.1 230.6,93.6 231.4,93.9 232.2,94.2 233.0,93.6 233.8,93.6 234.6,94.1 235.4,93.6 236.2,93.4 237.0,94.0 237.8,93.7 238.6,93.3 239.4,93.8 240.2,93.8 241.0,93.3 241.8,93.6 242.6,93.9 243.4,93.3 244.2,93.4 245.0,93.9 245.8,93.4 246.6,93.2 247.4,93.8 248.2,93.6 249.0,93.1 249.8,93.6 250.6,93.7 251.4,93.1 252.2,93.4 253.0,93.8 253.8,93.2 254.6,93.3 255.4,93.8" fill="none" stroke="#0f8f3a" stroke-width="1.6" />
<path d="M39.5,36.4C42.9,36.5 49.9,36.8 60.0,37.0C70.1,37.2 70.0,37.4 100.0,37.5C130.0,37.6 206.7,37.7 240.0,37.5C273.3,37.3 277.2,36.9 300.0,36.5C322.8,36.1 364.2,35.2 377.0,35.0" fill="none" stroke="#6b6355" stroke-width="0.3" />
<path d="M46.0,55.4C48.3,55.5 51.0,55.8 60.0,55.9C69.0,56.0 82.3,55.8 100.0,55.9C117.7,56.0 148.0,56.5 166.0,56.6C184.0,56.7 195.7,56.7 208.0,56.7C220.3,56.7 231.0,56.5 240.0,56.4C249.0,56.3 255.7,56.2 262.0,56.0C268.3,55.8 271.7,55.6 278.0,55.2C284.3,54.8 292.8,54.0 300.0,53.6C307.2,53.2 313.5,52.9 321.0,52.8C328.5,52.7 335.7,52.7 345.0,52.9C354.3,53.1 371.7,53.7 377.0,53.9" fill="none" stroke="#6b6355" stroke-width="0.3" />
<polyline points="34.0,51.2 45.5,51.6" fill="none" stroke="#6b6355" stroke-width="0.3" />
<path d="M49.0,60.4C55.8,60.7 70.5,61.6 90.0,62.0C109.5,62.4 141.0,62.6 166.0,62.6C191.0,62.6 221.0,62.6 240.0,62.3C259.0,62.0 266.7,61.3 280.0,60.6C293.3,59.9 309.2,58.7 320.0,58.2C330.8,57.7 335.5,57.9 345.0,57.8C354.5,57.7 371.7,57.8 377.0,57.8" fill="none" stroke="#6b6355" stroke-width="0.3" />
<polyline points="34.0,57.0 48.0,57.8" fill="none" stroke="#6b6355" stroke-width="0.3" />
<polyline points="51.5,67.7 52.3,67.8 53.1,67.2 53.9,67.1 54.7,67.8 55.5,67.9 56.3,67.3 57.1,67.2 57.9,67.9 58.7,68.0 59.5,67.4 60.3,67.3 61.1,68.0 61.9,68.1 62.7,67.5 63.5,67.4 64.3,68.1 65.1,68.2 65.9,67.6 66.7,67.5 67.5,68.2 68.3,68.3 69.1,67.7 69.9,67.6 70.7,68.3 71.5,68.4 72.3,67.8 73.1,67.7 73.9,68.4 74.7,68.5 75.5,67.9 76.3,67.8 77.1,68.5 77.9,68.6 78.7,68.0 79.5,67.9 80.3,68.6 81.1,68.8 81.9,68.2 82.7,68.1 83.5,68.7 84.3,68.9 85.1,68.3 85.9,68.2 86.7,68.8 87.5,69.0 88.3,68.4 89.1,68.3 89.9,68.9 90.7,69.1 91.5,68.5 92.3,68.4 93.1,69.0 93.9,69.2 94.7,68.6 95.5,68.5 96.3,69.1 97.1,69.3 97.9,68.7 98.7,68.6 99.5,69.2 100.3,69.4 101.1,68.8 101.9,68.7 102.7,69.3 103.5,69.4 104.3,68.8 105.1,68.7 105.9,69.3 106.7,69.5 107.5,68.9 108.3,68.8 109.1,69.4 109.9,69.5 110.7,68.9 111.5,68.8 112.3,69.4 113.1,69.6 113.9,69.0 114.7,68.8 115.5,69.5 116.3,69.6 117.1,69.0 117.9,68.9 118.7,69.5 119.5,69.7 120.3,69.1 121.1,68.9 121.9,69.6 122.7,69.7 123.5,69.1 124.3,69.0 125.1,69.6 125.9,69.8 126.7,69.2 127.5,69.0 128.3,69.7 129.1,69.8 129.9,69.2 130.7,69.1 131.5,69.7 132.3,69.9 133.1,69.3 133.9,69.1 134.7,69.8 135.5,69.9 136.3,69.3 137.1,69.2 137.9,69.8 138.7,70.0 139.5,69.3 140.3,69.2 141.1,69.9 141.9,70.0 142.7,69.4 143.5,69.3 144.3,69.9 145.1,70.1 145.9,69.4 146.7,69.3 147.5,70.0 148.3,70.1 149.1,69.5 149.9,69.4 150.7,70.0 151.5,70.2 152.3,69.5 153.1,69.4 153.9,70.1 154.7,70.2 155.5,69.6 156.3,69.5 157.1,70.1 157.9,70.3 158.7,69.6 159.5,69.5 160.3,70.2 161.1,70.3 161.9,69.7 162.7,69.6 163.5,70.2 164.3,70.3 165.1,69.7 165.9,69.6 166.7,70.3 167.5,70.4 168.3,69.7 169.1,69.6 169.9,70.3 170.7,70.4 171.5,69.7 172.3,69.6 173.1,70.3 173.9,70.4 174.7,69.7 175.5,69.6 176.3,70.3 177.1,70.4 177.9,69.7 178.7,69.6 179.5,70.3 180.3,70.4 181.1,69.7 181.9,69.6 182.7,70.3 183.5,70.4 184.3,69.7 185.1,69.6 185.9,70.3 186.7,70.4 187.5,69.7 188.3,69.6 189.1,70.3 189.9,70.4 190.7,69.7 191.5,69.6 192.3,70.3 193.1,70.4 193.9,69.7 194.7,69.6 195.5,70.3 196.3,70.4 197.1,69.7 197.9,69.6 198.7,70.3 199.5,70.4 200.3,69.7 201.1,69.6 201.9,70.3 202.7,70.4 203.5,69.7 204.3,69.6 205.1,70.3 205.9,70.4 206.7,69.7 207.5,69.6 208.3,70.2 209.1,70.4 209.9,69.7 210.7,69.6 211.5,70.2 212.3,70.3 213.1,69.7 213.9,69.6 214.7,70.2 215.5,70.3 216.3,69.7 217.1,69.6 217.9,70.2 218.7,70.3 219.5,69.7 220.3,69.5 221.1,70.2 221.9,70.3 222.7,69.7 223.5,69.5 224.3,70.1 225.1,70.3 225.9,69.6 226.7,69.5 227.5,70.1 228.3,70.2 229.1,69.6 229.9,69.5 230.7,70.1 231.5,70.2 232.3,69.6 233.1,69.5 233.9,70.1 234.7,70.2 235.5,69.6 236.3,69.4 237.1,70.1 237.9,70.2 238.7,69.6 239.5,69.4 240.3,70.0 241.1,70.1 241.9,69.5 242.7,69.4 243.5,70.0 244.3,70.1 245.1,69.4 245.9,69.3 246.7,69.9 247.5,70.0 248.3,69.4 249.1,69.2 249.9,69.8 250.7,69.9 251.5,69.3 252.3,69.1 253.1,69.8 253.9,69.9 254.7,69.2 255.5,69.1 256.3,69.7 257.1,69.8 257.9,69.1 258.7,69.0 259.5,69.6 260.3,69.7 261.1,69.1 261.9,68.9 262.7,69.5 263.5,69.5 264.3,68.9 265.1,68.7 265.9,69.2 266.7,69.3 267.5,68.6 268.3,68.4 269.1,68.9 269.9,69.0 270.7,68.3 271.5,68.1 272.3,68.7 273.1,68.7 273.9,68.0 274.7,67.9 275.5,68.4 276.3,68.4 277.1,67.7 277.9,67.4 278.7,68.0 279.5,68.0 280.3,67.2 281.1,67.0 281.9,67.5 282.7,67.5 283.5,66.8" fill="none" stroke="#6b6355" stroke-width="0.3" />
<polyline points="286.0,68.9 286.8,68.2 287.6,68.0 288.4,68.5 289.2,68.4 290.0,67.7 290.8,67.5 291.6,68.0 292.4,67.9 293.2,67.2 294.0,67.0 294.8,67.5 295.6,67.4 296.4,66.6 297.2,66.5 298.0,67.0 298.8,66.9 299.6,66.1 300.4,65.9 301.2,66.4 302.0,66.3 302.8,65.6 303.6,65.5 304.4,66.0 305.2,65.9 306.0,65.1 306.8,65.0 307.6,65.6 308.4,65.4 309.2,64.7 310.0,64.6 310.8,65.1 311.6,65.0 312.4,64.3 313.2,64.2 314.0,64.8 314.8,64.7 315.6,63.9 316.4,63.9 317.2,64.4 318.0,64.4 318.8,63.8 319.6,63.8 320.4,64.4 321.2,64.4 322.0,63.8 322.8,63.8 323.6,64.5 324.4,64.5 325.2,63.8 326.0,63.8 326.8,64.5 327.6,64.5 328.4,63.8 329.2,63.9 330.0,64.5 330.8,64.5 331.6,63.9 332.4,63.9 333.2,64.5 334.0,64.5 334.8,63.9 335.6,64.0 336.4,64.6 337.2,64.7 338.0,64.1 338.8,64.1 339.6,64.8 340.4,64.8 341.2,64.2 342.0,64.2 342.8,64.9 343.6,64.9 344.4,64.3 345.2,64.4 346.0,65.0 346.8,65.1 347.6,64.5 348.4,64.5 349.2,65.1 350.0,65.1 350.8,64.5 351.6,64.5 352.4,65.1 353.2,65.1 354.0,64.4 354.8,64.4 355.6,65.1 356.4,65.0 357.2,64.4 358.0,64.4 358.8,65.0 359.6,65.0 360.4,64.4 361.2,64.4 362.0,65.0 362.8,65.0 363.6,64.3 364.4,64.3 365.2,64.9 366.0,64.9 366.8,64.3 367.6,64.2 368.4,64.9 369.2,64.9 370.0,64.2 370.8,64.2 371.6,64.8 372.4,64.8 373.2,64.1 374.0,64.1 374.8,64.8 375.6,64.7 376.4,64.1" fill="none" stroke="#6b6355" stroke-width="0.3" />
<path d="M55.5,74.6C61.2,74.7 75.9,74.8 90.0,75.0C104.1,75.2 121.7,75.5 140.0,75.6C158.3,75.7 183.3,75.7 200.0,75.4C216.7,75.1 226.2,74.9 240.0,74.0C253.8,73.1 273.0,70.0 283.0,70.0C293.0,70.0 293.8,73.4 300.0,74.0C306.2,74.6 312.5,73.7 320.0,73.5C327.5,73.3 335.5,72.9 345.0,72.7C354.5,72.5 371.7,72.5 377.0,72.5" fill="none" stroke="#6b6355" stroke-width="0.3" />
<polyline points="58.3,81.4 59.1,81.1 59.9,80.6 60.7,80.9 61.5,81.5 62.3,81.1 63.1,80.6 63.9,81.0 64.7,81.5 65.5,81.2 66.3,80.7 67.1,81.0 67.9,81.6 68.7,81.2 69.5,80.7 70.3,81.1 71.1,81.6 71.9,81.3 72.7,80.7 73.5,81.1 74.3,81.7 75.1,81.3 75.9,80.8 76.7,81.2 77.5,81.7 78.3,81.4 79.1,80.8 79.9,81.2 80.7,81.7 81.5,81.4 82.3,80.9 83.1,81.2 83.9,81.8 84.7,81.4 85.5,80.9 86.3,81.3 87.1,81.8 87.9,81.5 88.7,81.0 89.5,81.3 90.3,81.9 91.1,81.5 91.9,81.0 92.7,81.4 93.5,81.9 94.3,81.6 95.1,81.0 95.9,81.4 96.7,81.9 97.5,81.6 98.3,81.1 99.1,81.4 99.9,82.0 100.7,81.6 101.5,81.1 102.3,81.5 103.1,82.0 103.9,81.7 104.7,81.2 105.5,81.5 106.3,82.1 107.1,81.7 107.9,81.2 108.7,81.6 109.5,82.1 110.3,81.8 111.1,81.3 111.9,81.6 112.7,82.2 113.5,81.8 114.3,81.3 115.1,81.7 115.9,82.2 116.7,81.9 117.5,81.4 118.3,81.7 119.1,82.3 119.9,81.9 120.7,81.4 121.5,81.8 122.3,82.3 123.1,82.0 123.9,81.4 124.7,81.8 125.5,82.4 126.3,82.0 127.1,81.5 127.9,81.9 128.7,82.4 129.5,82.1 130.3,81.5 131.1,81.9 131.9,82.4 132.7,82.1 133.5,81.6 134.3,82.0 135.1,82.5 135.9,82.2 136.7,81.6 137.5,82.0 138.3,82.5 139.1,82.2 139.9,81.7 140.7,82.0 141.5,82.6 142.3,82.2 143.1,81.7 143.9,82.1 144.7,82.6 145.5,82.3 146.3,81.8 147.1,82.1 147.9,82.7 148.7,82.3 149.5,81.8 150.3,82.2 151.1,82.7 151.9,82.4 152.7,81.9 153.5,82.2 154.3,82.8 155.1,82.4 155.9,81.9 156.7,82.3 157.5,82.8 158.3,82.5 159.1,82.0 159.9,82.3 160.7,82.9 161.5,82.5 162.3,82.0 163.1,82.4 163.9,82.9 164.7,82.6 165.5,82.1 166.3,82.4 167.1,82.9 167.9,82.6 168.7,82.1 169.5,82.4 170.3,82.9 171.1,82.6 171.9,82.1 172.7,82.4 173.5,82.9 174.3,82.6 175.1,82.1 175.9,82.4 176.7,82.9 177.5,82.6 178.3,82.1 179.1,82.4 179.9,82.9 180.7,82.6 181.5,82.1 182.3,82.4 183.1,82.9 183.9,82.6 184.7,82.1 185.5,82.4 186.3,82.9 187.1,82.6 187.9,82.1 188.7,82.4 189.5,82.9 190.3,82.6 191.1,82.1 191.9,82.4 192.7,82.9 193.5,82.6 194.3,82.1 195.1,82.4 195.9,82.9 196.7,82.6 197.5,82.1 198.3,82.4 199.1,82.9 199.9,82.6 200.7,82.1 201.5,82.4 202.3,82.9 203.1,82.6 203.9,82.1 204.7,82.4 205.5,82.8 206.3,82.4 207.1,81.8 207.9,82.1 208.7,82.6 209.5,82.2 210.3,81.6 211.1,81.9 211.9,82.4 212.7,82.0 213.5,81.4 214.3,81.7 215.1,82.2 215.9,81.8 216.7,81.2 217.5,81.5 218.3,81.9 219.1,81.5 219.9,81.0 220.7,81.3 221.5,81.7 222.3,81.3 223.1,80.7 223.9,81.0 224.7,81.5 225.5,81.1 226.3,80.5 227.1,80.8 227.9,81.3 228.7,80.9 229.5,80.3 230.3,80.6 231.1,81.1 231.9,80.7 232.7,80.1 233.5,80.4 234.3,80.8 235.1,80.4 235.9,79.8 236.7,80.1 237.5,80.6 238.3,80.2 239.1,79.6 239.9,79.9 240.7,80.4 241.5,80.0 242.3,79.4 243.1,79.7 243.9,80.1 244.7,79.7 245.5,79.1 246.3,79.4 247.1,79.9 247.9,79.4 248.7,78.9 249.5,79.1 250.3,79.6 251.1,79.2 251.9,78.6 252.7,78.9 253.5,79.3 254.3,78.9 255.1,78.3 255.9,78.6 256.7,79.1 257.5,78.7 258.3,78.1 259.1,78.4 259.9,78.8 260.7,78.4 261.5,77.8 262.3,78.1 263.1,78.6 263.9,78.1 264.7,77.5 265.5,77.8 266.3,78.3 267.1,77.9 267.9,77.3 268.7,77.6 269.5,78.0 270.3,77.6 271.1,77.0 271.9,77.3 272.7,77.8 273.5,77.4 274.3,76.8 275.1,77.1 275.9,77.5 276.7,77.1 277.5,76.5 278.3,76.8 279.1,77.3 279.9,76.8 280.7,76.2 281.5,76.5 282.3,77.0" fill="none" stroke="#6b6355" stroke-width="0.3" />
<polyline points="300.0,79.0 300.8,79.6 301.6,80.1 302.4,79.7 303.2,79.3 304.0,79.8 304.8,80.3 305.6,79.9 306.4,79.5 307.2,80.0 308.0,80.5 308.8,80.1 309.6,79.7 310.4,80.2 311.2,80.7 312.0,80.3 312.8,79.9 313.6,80.4 314.4,80.9 315.2,80.5 316.0,80.1 316.8,80.6 317.6,81.1 318.4,80.7 319.2,80.3 320.0,80.8 320.8,81.3 321.6,80.8 322.4,80.4 323.2,80.8 324.0,81.3 324.8,80.8 325.6,80.4 326.4,80.9 327.2,81.3 328.0,80.9 328.8,80.4 329.6,80.9 330.4,81.3 331.2,80.9 332.0,80.4 332.8,80.9 333.6,81.4 334.4,80.9 335.2,80.5 336.0,80.9 336.8,81.4 337.6,80.9 338.4,80.5 339.2,81.0 340.0,81.4 340.8,81.0 341.6,80.5 342.4,81.0 343.2,81.4 344.0,81.0 344.8,80.5 345.6,81.0 346.4,81.4 347.2,80.9 348.0,80.5 348.8,80.9 349.6,81.3 350.4,80.8 351.2,80.4 352.0,80.8 352.8,81.2 353.6,80.7 354.4,80.3 355.2,80.7 356.0,81.1 356.8,80.6 357.6,80.2 358.4,80.6 359.2,81.0 360.0,80.5 360.8,80.1 361.6,80.5 362.4,80.9 363.2,80.4 364.0,80.0 364.8,80.4 365.6,80.8 366.4,80.3 367.2,79.9 368.0,80.3 368.8,80.7 369.6,80.2 370.4,79.8 371.2,80.2 372.0,80.6 372.8,80.1 373.6,79.7 374.4,80.1 375.2,80.5 376.0,80.0 376.8,79.6" fill="none" stroke="#6b6355" stroke-width="0.3" />
<polyline points="305.0,85.4 305.8,85.1 306.6,85.1 307.4,85.9 308.2,86.4 309.0,86.0 309.8,86.0 310.6,86.9 311.4,87.3 312.2,87.0 313.0,87.0 313.8,87.8 314.6,88.2 315.4,87.7 316.2,87.5 317.0,88.2 317.8,88.5 318.6,88.0 319.4,87.9 320.2,88.6 321.0,88.9 321.8,88.4 322.6,88.2 323.4,88.9 324.2,89.2 325.0,88.5 325.8,88.2 326.6,88.8 327.4,88.9 328.2,88.3 329.0,88.0 329.8,88.5 330.6,88.7 331.4,88.0 332.2,87.7 333.0,88.3 333.8,88.4 334.6,87.8 335.4,87.5 336.2,88.1 337.0,88.3 337.8,87.7 338.6,87.4 339.4,88.0 340.2,88.2 341.0,87.6 341.8,87.3 342.6,87.9 343.4,88.1 344.2,87.5 345.0,87.2 345.8,87.7 346.6,88.0 347.4,87.3 348.2,87.1 349.0,87.6 349.8,87.9 350.6,87.2 351.4,87.0 352.2,87.5 353.0,87.7 353.8,87.1 354.6,86.9 355.4,87.4 356.2,87.6 357.0,87.0 357.8,86.7 358.6,87.3 359.4,87.5 360.2,86.9 361.0,86.6 361.8,87.2 362.6,87.4 363.4,86.8 364.2,86.5 365.0,87.1 365.8,87.3 366.6,86.7 367.4,86.4 368.2,87.0 369.0,87.2 369.8,86.6 370.6,86.3 371.4,86.9 372.2,87.1 373.0,86.5 373.8,86.2 374.6,86.8 375.4,87.0 376.2,86.4" fill="none" stroke="#6b6355" stroke-width="0.3" />
<polyline points="224.0,93.3 224.8,93.8 225.6,93.3 226.4,92.8 227.2,93.3 228.0,93.8 228.8,93.3 229.6,92.8 230.4,93.3 231.2,93.8 232.0,93.3 232.8,92.8 233.6,93.3 234.4,93.8 235.2,93.3 236.0,92.8 236.8,93.3 237.6,93.8 238.4,93.3 239.2,92.8 240.0,93.3 240.8,93.8 241.6,93.3 242.4,92.8 243.2,93.3 244.0,93.8 244.8,93.3 245.6,92.7 246.4,92.9 247.2,93.1 248.0,92.4 248.8,91.7 249.6,91.9 250.4,92.1 251.2,91.4 252.0,90.7 252.8,91.0 253.6,91.2 254.4,90.5 255.2,89.8" fill="none" stroke="#6b6355" stroke-width="0.3" />
<path d="M76.7,102.5C80.6,101.9 92.1,100.0 100.0,99.0C107.9,98.0 115.7,97.5 124.0,96.7C132.3,95.9 142.8,94.8 150.0,94.0C157.2,93.2 164.2,92.3 167.0,92.0" fill="none" stroke="#6b6355" stroke-width="0.3" />
<path d="M76.0,108.0C80.0,107.8 92.0,107.0 100.0,106.5C108.0,106.0 115.7,105.8 124.0,105.0C132.3,104.2 142.3,103.0 150.0,102.0C157.7,101.0 166.7,99.5 170.0,99.0" fill="none" stroke="#6b6355" stroke-width="0.3" />
</g>
<path d="M34.0,28.5C34.9,30.3 37.7,35.9 39.5,39.5C41.3,43.1 43.0,45.5 45.0,50.0C47.0,54.5 49.2,61.6 51.3,66.5C53.4,71.4 55.5,75.6 57.5,79.2C59.5,82.8 61.2,85.4 63.3,88.3C65.4,91.2 68.0,94.1 70.0,96.7C72.0,99.3 73.0,101.2 75.0,104.0C77.0,106.8 79.1,109.7 81.7,113.3C84.3,116.9 87.5,120.7 90.8,125.8C94.1,130.9 99.9,141.0 101.7,144.0" fill="none" stroke="#cc2a3e" stroke-width="0.75" />
<path d="M98.3,89.2C100.2,91.1 106.5,96.8 110.0,100.5C113.5,104.2 116.5,108.7 119.0,111.7C121.5,114.7 122.9,116.2 125.0,118.5C127.1,120.8 128.6,123.0 131.7,125.8C134.8,128.6 138.6,132.3 143.3,135.0C148.0,137.7 155.3,139.9 160.0,141.7C164.7,143.5 169.8,145.1 171.7,145.8" fill="none" stroke="#cc2a3e" stroke-width="0.75" />
<path d="M143.3,71.5C144.4,73.6 147.8,80.4 150.0,84.0C152.2,87.6 153.8,89.7 156.7,93.3C159.6,96.9 163.9,102.2 167.5,105.8C171.1,109.4 175.9,113.0 178.3,115.0C180.7,117.0 181.4,117.5 182.0,118.0" fill="none" stroke="#cc2a3e" stroke-width="0.75" />
<path d="M264.3,13.5C265.0,15.2 267.1,20.4 268.5,24.0C269.9,27.6 270.3,29.0 272.5,35.0C274.7,41.0 278.8,53.9 281.7,60.0C284.6,66.1 287.2,68.4 290.0,71.7C292.8,75.0 295.4,77.2 298.3,80.0C301.2,82.8 304.2,84.4 307.5,88.3C310.8,92.2 313.9,97.3 318.3,103.3C322.8,109.3 331.6,120.7 334.2,124.2" fill="none" stroke="#cc2a3e" stroke-width="0.75" />
<path d="M203.5,67.5C202.9,68.6 201.4,71.8 200.0,74.0C198.6,76.2 196.7,78.8 195.0,81.0C193.3,83.2 192.2,85.4 190.0,87.5C187.8,89.6 184.8,91.7 182.0,93.5C179.2,95.3 176.0,96.9 173.3,98.3C170.6,99.7 167.1,101.1 165.8,101.7" fill="none" stroke="#cc2a3e" stroke-width="0.6" />
<path d="M235.0,68.0C234.0,69.3 232.2,73.0 229.0,76.0C225.8,79.0 220.2,82.4 216.0,86.0C211.8,89.6 208.3,94.3 204.0,97.5C199.7,100.7 194.8,102.4 190.0,105.0C185.2,107.6 179.2,110.7 175.0,113.0C170.8,115.3 166.7,118.0 165.0,119.0" fill="none" stroke="#cc2a3e" stroke-width="0.6" />
<path d="M228.5,88.3C226.4,90.1 219.8,95.7 216.0,99.0C212.2,102.3 208.8,105.5 206.0,108.3C203.2,111.1 201.1,113.5 199.0,116.0C196.9,118.5 194.2,122.2 193.3,123.5" fill="none" stroke="#cc2a3e" stroke-width="0.6" />
<path d="M246.0,75.0C247.0,76.3 249.9,80.2 252.0,83.0C254.1,85.8 257.4,90.1 258.5,91.5" fill="none" stroke="#cc2a3e" stroke-width="0.6" />
<path d="M258.5,93.3C256.1,95.5 249.2,102.5 244.3,106.5C239.4,110.5 231.8,115.2 229.3,117.0" fill="none" stroke="#cc2a3e" stroke-width="0.6" />
<path d="M214.0,116.7C215.8,118.4 220.7,123.0 225.0,127.0C229.3,131.0 237.5,138.5 240.0,140.8" fill="none" stroke="#cc2a3e" stroke-width="0.6" />
<path d="M290.0,72.5C288.8,74.1 285.5,78.6 283.0,82.0C280.5,85.4 277.2,90.0 275.0,93.0C272.8,96.0 270.8,98.8 270.0,100.0" fill="none" stroke="#cc2a3e" stroke-width="0.6" />
<polyline points="297.5,77.5 288.3,91.7" fill="none" stroke="#cc2a3e" stroke-width="0.6" />
<polyline points="257.5,85.0 266.7,77.5" fill="none" stroke="#cc2a3e" stroke-width="0.6" />
<polyline points="166.8,13.2 166.8,102.0" fill="none" stroke="#2a2a2a" stroke-width="0.5" />
<path d="M163.20000000000002,13.25 L166.8,5.55 L170.4,13.25 Z M164.70000000000002,10.05 L168.9,10.05 M164.70000000000002,10.05 L170.4,13.25 M168.9,10.05 L163.20000000000002,13.25 M165.8,7.75 L167.8,7.75" fill="none" stroke="#909090" stroke-width="0.45"/>
<text x="168.0" y="3.75" font-size="5.4" fill="#444" text-anchor="middle" >LF8-A-A</text>
<polyline points="208.5,13.2 208.7,60.0 206.0,78.3 204.0,83.0 197.7,93.3 182.5,119.0" fill="none" stroke="#2a2a2a" stroke-width="0.5" />
<path d="M204.9,13.25 L208.5,5.55 L212.1,13.25 Z M206.4,10.05 L210.6,10.05 M206.4,10.05 L212.1,13.25 M210.6,10.05 L204.9,13.25 M207.5,7.75 L209.5,7.75" fill="none" stroke="#909090" stroke-width="0.45"/>
<text x="206.8" y="3.75" font-size="5.4" fill="#444" text-anchor="middle" >LF8-AS-Ad</text>
<polyline points="220.5,13.2 221.8,60.0 221.0,73.3 212.7,93.3 205.0,111.7" fill="none" stroke="#2a2a2a" stroke-width="0.5" />
<path d="M216.9,13.25 L220.5,5.55 L224.1,13.25 Z M218.4,10.05 L222.6,10.05 M218.4,10.05 L224.1,13.25 M222.6,10.05 L216.9,13.25 M219.5,7.75 L221.5,7.75" fill="none" stroke="#909090" stroke-width="0.45"/>
<text x="223.0" y="-1.9500000000000002" font-size="5.4" fill="#444" text-anchor="middle" >LF14-H-Bd</text>
<polyline points="229.2,13.2 235.2,60.0 244.3,106.7" fill="none" stroke="#2a2a2a" stroke-width="0.5" />
<path d="M225.6,13.25 L229.2,5.55 L232.79999999999998,13.25 Z M227.1,10.05 L231.29999999999998,10.05 M227.1,10.05 L232.79999999999998,13.25 M231.29999999999998,10.05 L225.6,13.25 M228.2,7.75 L230.2,7.75" fill="none" stroke="#909090" stroke-width="0.45"/>
<text x="232.8" y="3.75" font-size="5.4" fill="#444" text-anchor="middle" >LF14-H-Ad</text>
<polyline points="261.6,13.2 261.6,96.0" fill="none" stroke="#2a2a2a" stroke-width="0.5" />
<path d="M258.0,13.25 L261.6,5.55 L265.20000000000005,13.25 Z M259.5,10.05 L263.70000000000005,10.05 M259.5,10.05 L265.20000000000005,13.25 M263.70000000000005,10.05 L258.0,13.25 M260.6,7.75 L262.6,7.75" fill="none" stroke="#909090" stroke-width="0.45"/>
<text x="268.0" y="3.75" font-size="5.4" fill="#444" text-anchor="middle" >LF14-D-Dd</text>
<polyline points="278.5,13.2 278.5,43.5" fill="none" stroke="#2a2a2a" stroke-width="0.5" />
<path d="M274.9,13.25 L278.5,5.55 L282.1,13.25 Z M276.4,10.05 L280.6,10.05 M276.4,10.05 L282.1,13.25 M280.6,10.05 L274.9,13.25 M277.5,7.75 L279.5,7.75" fill="none" stroke="#909090" stroke-width="0.45"/>
<text x="278.7" y="-1.9500000000000002" font-size="5.4" fill="#444" text-anchor="middle" >LF14-D-Ad</text>
<polyline points="321.5,13.2 321.5,69.7" fill="none" stroke="#2a2a2a" stroke-width="0.5" />
<path d="M317.9,13.25 L321.5,5.55 L325.1,13.25 Z M319.4,10.05 L323.6,10.05 M319.4,10.05 L325.1,13.25 M323.6,10.05 L317.9,13.25 M320.5,7.75 L322.5,7.75" fill="none" stroke="#909090" stroke-width="0.45"/>
<text x="320.8" y="3.75" font-size="5.4" fill="#444" text-anchor="middle" >LF14-C-A</text>
<polyline points="185.3,102.7 193.2,98.2" fill="none" stroke="#2626a6" stroke-width="1.5" stroke-dasharray="2.8 1.3"/><polygon points="197.0,96.0 194.3,100.1 192.1,96.3" fill="#2626a6"/>
<polyline points="193.6,104.3 200.6,100.6" fill="none" stroke="#2626a6" stroke-width="1.5" stroke-dasharray="2.8 1.3"/><polygon points="204.5,98.5 201.6,102.5 199.6,98.6" fill="#2626a6"/>
<polyline points="192.0,109.3 187.2,106.0" fill="none" stroke="#2626a6" stroke-width="1.5" stroke-dasharray="2.8 1.3"/><polygon points="183.6,103.5 188.5,104.2 186.0,107.8" fill="#2626a6"/>
<polyline points="234.5,105.2 235.4,99.5" fill="none" stroke="#2626a6" stroke-width="1.5" stroke-dasharray="2.8 1.3"/><polygon points="236.1,95.2 237.6,99.9 233.2,99.2" fill="#2626a6"/>
<polyline points="246.3,111.8 254.0,108.5" fill="none" stroke="#2626a6" stroke-width="1.5" stroke-dasharray="2.8 1.3"/><polygon points="258.0,106.8 254.8,110.6 253.1,106.5" fill="#2626a6"/>
<polyline points="256.3,103.5 262.8,102.0" fill="none" stroke="#2626a6" stroke-width="1.5" stroke-dasharray="2.8 1.3"/><polygon points="267.1,101.0 263.3,104.1 262.3,99.8" fill="#2626a6"/>
<polyline points="278.5,43.5 276.5,80.0 272.5,102.0" fill="none" stroke="#2a2a2a" stroke-width="0.45" />
<polyline points="278.5,43.5 281.0,80.0 284.3,97.0" fill="none" stroke="#2a2a2a" stroke-width="0.45" />
<polyline points="278.5,43.5 288.0,78.0 297.5,91.0" fill="none" stroke="#2a2a2a" stroke-width="0.45" />
<polyline points="271.8,107.0 271.5,116.0" fill="none" stroke="#555" stroke-width="0.45" />
<polyline points="285.0,102.5 287.5,110.0" fill="none" stroke="#555" stroke-width="0.45" />
<polyline points="299.0,96.0 303.0,104.0" fill="none" stroke="#555" stroke-width="0.45" />
<circle cx="181.1" cy="100.7" r="2.4" fill="#35b6e6" stroke="#20304a" stroke-width="0.45"/>
<circle cx="242.6" cy="93.6" r="2.4" fill="#c880e8" stroke="#20304a" stroke-width="0.45"/>
<circle cx="271.8" cy="104.3" r="2.7" fill="#35b6e6" stroke="#20304a" stroke-width="0.45"/>
<circle cx="284.6" cy="99.7" r="2.7" fill="#c880e8" stroke="#20304a" stroke-width="0.45"/>
<circle cx="298" cy="93.8" r="2.7" fill="#35b6e6" stroke="#20304a" stroke-width="0.45"/>
<text x="83.5" y="55.5" font-size="5.5" fill="#3a3a3a" text-anchor="start" >T50</text>
<text x="83.5" y="62.6" font-size="5.5" fill="#3a3a3a" text-anchor="start" >T60</text>
<text x="83.5" y="69.3" font-size="5.5" fill="#3a3a3a" text-anchor="start" >T70</text>
<text x="83.5" y="76.8" font-size="5.5" fill="#3a3a3a" text-anchor="start" >T71</text>
<text x="83.5" y="83.5" font-size="5.5" fill="#3a3a3a" text-anchor="start" >T72</text>
<text x="87.5" y="100.6" font-size="5.5" fill="#3a3a3a" text-anchor="start" >T73</text>
<text x="87.5" y="107.6" font-size="5.5" fill="#3a3a3a" text-anchor="start" >T80</text>
<text x="87.5" y="115.8" font-size="5.5" fill="#3a3a3a" text-anchor="start" >T83</text>
<text x="108.5" y="119.3" font-size="5.5" fill="#3a3a3a" text-anchor="start" >Tg</text>
<text x="123" y="130" font-size="5.5" fill="#3a3a3a" text-anchor="start" >T83</text>
<text x="139" y="140.8" font-size="5.5" fill="#3a3a3a" text-anchor="start" >T84</text>
<text x="155" y="145.5" font-size="5.5" fill="#3a3a3a" text-anchor="start" >Tg</text>
<text x="338" y="54.3" font-size="5.5" fill="#3a3a3a" text-anchor="start" >T50</text>
<text x="338" y="61.5" font-size="5.5" fill="#3a3a3a" text-anchor="start" >T60</text>
<text x="338" y="68.8" font-size="5.5" fill="#3a3a3a" text-anchor="start" >T70</text>
<text x="338" y="76.5" font-size="5.5" fill="#3a3a3a" text-anchor="start" >T71</text>
<text x="338" y="84.8" font-size="5.5" fill="#3a3a3a" text-anchor="start" >T72</text>
<text x="340" y="91.2" font-size="5.5" fill="#3a3a3a" text-anchor="start" >T73</text>
<text x="324" y="95.2" font-size="5.5" fill="#3a3a3a" text-anchor="start" >T80</text>
<text x="326" y="101.5" font-size="5.5" fill="#3a3a3a" text-anchor="start" >T84</text>
<text x="330" y="110.3" font-size="5.5" fill="#3a3a3a" text-anchor="start" >Tg</text>
</g>
<path d="M34,356.8 V493 H377 V356.8" fill="none"  stroke="#6e6e6e" stroke-width="0.65"/>
<line x1="34" x2="377" y1="356.8" y2="356.8" stroke="#75605f" stroke-width="0.7"/>
<line x1="31" x2="34" y1="377.6" y2="377.6" stroke="#555" stroke-width="0.5"/>
<text x="22" y="381.2" font-size="7.4" fill="#3c3c3c" text-anchor="middle" >2.0</text>
<line x1="31" x2="34" y1="407.7" y2="407.7" stroke="#555" stroke-width="0.5"/>
<text x="22" y="410.9" font-size="7.4" fill="#3c3c3c" text-anchor="middle" >3.0</text>
<line x1="31" x2="34" y1="440.4" y2="440.4" stroke="#555" stroke-width="0.5"/>
<text x="22" y="442.9" font-size="7.4" fill="#3c3c3c" text-anchor="middle" >4.0</text>
<line x1="31" x2="34" y1="467.8" y2="467.8" stroke="#555" stroke-width="0.5"/>
<text x="22" y="470.3" font-size="7.4" fill="#3c3c3c" text-anchor="middle" >5.0</text>
<line x1="31" x2="34" y1="492" y2="492" stroke="#555" stroke-width="0.5"/>
<text x="22" y="494.5" font-size="7.4" fill="#3c3c3c" text-anchor="middle" >6.0</text>
<text x="16.1" y="349.6" font-size="9.2" fill="#2a2a2a" text-anchor="start"  font-weight="bold">(c)</text>
 <text transform="translate(14.6,431.8) rotate(-90)" font-size="9.3" letter-spacing="0.35" fill="#2a2a2a" text-anchor="middle">Depth(km)</text>
<line x1="35" x2="377" y1="427" y2="427" stroke="#221a2c" stroke-width="1.7" stroke-dasharray="6.6 3.4" stroke-dashoffset="1.3"/>
<text x="35.699999999999996" y="423.0" font-size="7" fill="#e6243c" text-anchor="start" textLength="35.2" lengthAdjust="spacingAndGlyphs" stroke="#e6243c" stroke-width="0.28" opacity="0.8">Hydrocarbon</text>
<text x="74.7" y="423.0" font-size="7" fill="#e6243c" text-anchor="start" textLength="25.3" lengthAdjust="spacingAndGlyphs" stroke="#e6243c" stroke-width="0.28" opacity="0.8">expulsion</text>
<text x="103.80000000000001" y="423.0" font-size="7" fill="#e6243c" text-anchor="start" textLength="23.7" lengthAdjust="spacingAndGlyphs" stroke="#e6243c" stroke-width="0.28" opacity="0.8">threshold</text>
<path d="M40,477 V480 H79 V477 M59.5,477 V480" fill="none" stroke="#2a2a2a" stroke-width="0.8"/>
<text x="40" y="473.5" font-size="7.5" fill="#222" text-anchor="middle" >0</text>
<text x="59.5" y="473.5" font-size="7.5" fill="#222" text-anchor="middle" >1</text>
<text x="77" y="473.5" font-size="7.5" fill="#222" text-anchor="start" >2 km</text>
<rect x="34" y="495" width="342.8" height="48.5" fill="#fff" stroke="#787878" stroke-width="0.75"/>
<text x="40" y="520.5" font-size="7.4" fill="#222" text-anchor="start" letter-spacing="0.12">Legend</text>
<rect x="73.2" y="497.7" width="13.5" height="7.6" fill="#3a3838" stroke="#777" stroke-width="0.3"/>
<text x="80" y="511.2" font-size="4.9" fill="#5a6082" text-anchor="middle" >Fan-delta</text>
<text x="80" y="515.9" font-size="4.9" fill="#5a6082" text-anchor="middle" >facies</text>
<rect x="102.0" y="497.7" width="13.5" height="7.6" fill="#c178f0" stroke="#777" stroke-width="0.3"/>
<text x="108.8" y="511.2" font-size="4.9" fill="#5a6082" text-anchor="middle" >Alluvial</text>
<text x="108.8" y="515.9" font-size="4.9" fill="#5a6082" text-anchor="middle" >fan facies</text>
<rect x="131.2" y="497.7" width="13.5" height="7.6" fill="#efeb0e" stroke="#777" stroke-width="0.3"/>
<text x="138" y="509.8" font-size="4.9" fill="#5a6082" text-anchor="middle" >Delta front</text>
<text x="138" y="514.8" font-size="4.9" fill="#5a6082" text-anchor="middle" >of meandering</text>
<text x="138" y="519.8" font-size="4.9" fill="#5a6082" text-anchor="middle" >river facies</text>
<rect x="162.79999999999998" y="497.7" width="13.5" height="7.6" fill="#fdb26c" stroke="#777" stroke-width="0.3"/>
<text x="169.6" y="509.8" font-size="4.9" fill="#5a6082" text-anchor="middle" >Delta plain</text>
<text x="169.6" y="514.8" font-size="4.9" fill="#5a6082" text-anchor="middle" >of braided</text>
<text x="169.6" y="519.8" font-size="4.9" fill="#5a6082" text-anchor="middle" >river facies</text>
<rect x="200.2" y="497.7" width="13.5" height="7.6" fill="#f0ee7a" stroke="#777" stroke-width="0.3"/>
<text x="207" y="509.8" font-size="4.9" fill="#5a6082" text-anchor="middle" >Delta front</text>
<text x="207" y="514.8" font-size="4.9" fill="#5a6082" text-anchor="middle" >of braided</text>
<text x="207" y="519.8" font-size="4.9" fill="#5a6082" text-anchor="middle" >river facies</text>
<rect x="235.2" y="497.7" width="13.5" height="7.6" fill="#c6baba" stroke="#777" stroke-width="0.3"/>
<text x="242" y="511.2" font-size="4.9" fill="#5a6082" text-anchor="middle" >Front  delta</text>
<text x="242" y="515.9" font-size="4.9" fill="#5a6082" text-anchor="middle" >facies</text>
<rect x="270.4" y="497.7" width="13.5" height="7.6" fill="#a5dcf0" stroke="#777" stroke-width="0.3"/>
<text x="277.2" y="511.2" font-size="4.9" fill="#5a6082" text-anchor="middle" >Shore-shallow</text>
<text x="277.2" y="515.9" font-size="4.9" fill="#5a6082" text-anchor="middle" >lacustrine facies</text>
<rect x="306.2" y="497.7" width="13.5" height="7.6" fill="#2bb8ea" stroke="#777" stroke-width="0.3"/>
<text x="313" y="511.2" font-size="4.9" fill="#5a6082" text-anchor="middle" >Semi-deep</text>
<text x="313" y="515.9" font-size="4.9" fill="#5a6082" text-anchor="middle" >lacustrine facies</text>
<rect x="340.0" y="497.7" width="13.5" height="7.6" fill="#0a7896" stroke="#777" stroke-width="0.3"/>
<text x="346.8" y="511.2" font-size="4.9" fill="#5a6082" text-anchor="middle" >Deep lacustrine</text>
<text x="346.8" y="515.9" font-size="4.9" fill="#5a6082" text-anchor="middle" >facies</text>
<rect x="73" y="521" width="14" height="7.6" fill="#fae6e2" stroke="#888" stroke-width="0.35"/>
<text x="80" y="534.7" font-size="4.9" fill="#5a6082" text-anchor="middle" >Near shore</text>
<text x="80" y="539.4000000000001" font-size="4.9" fill="#5a6082" text-anchor="middle" >underwater fan facies</text>
<rect x="103.8" y="521" width="14" height="7.6" fill="#bda7a6" stroke="#888" stroke-width="0.35"/>
<text x="110.8" y="534.7" font-size="4.9" fill="#5a6082" text-anchor="middle" >Neritic</text>
<text x="110.8" y="539.4000000000001" font-size="4.9" fill="#5a6082" text-anchor="middle" >facies</text>
<rect x="136.6" y="521" width="14" height="7.6" fill="#fff" stroke="#888" stroke-width="0.35"/>
<path d="M138.2,523.5 C139.2,529 148.0,529 149.0,523.5 Z" fill="#d8247c"/>
<text x="143.6" y="534.7" font-size="4.9" fill="#5a6082" text-anchor="middle" >Effective hydrocarbon</text>
<text x="143.6" y="539.4000000000001" font-size="4.9" fill="#5a6082" text-anchor="middle" >source rock</text>
<rect x="177.2" y="521" width="14" height="7.6" fill="#fff" stroke="#888" stroke-width="0.35"/>
<path d="M179.2,526.5 C181.2,522.4 187.2,522.4 189.2,526.5 Z" fill="#167a34"/>
<text x="184.2" y="534.7" font-size="4.9" fill="#5a6082" text-anchor="middle" >Oil reservoir</text>
<rect x="204.7" y="521" width="14" height="7.6" fill="#fff" stroke="#888" stroke-width="0.35"/>
<path d="M206.7,526.5 C208.7,522.4 214.7,522.4 216.7,526.5 Z" fill="#2a6fd0"/>
<text x="211.7" y="534.7" font-size="4.9" fill="#5a6082" text-anchor="middle" >Water layer</text>
<rect x="228.2" y="521" width="14" height="7.6" fill="#fff" stroke="#888" stroke-width="0.35"/>
<line x1="231.0" y1="527.2" x2="239.39999999999998" y2="523.6" stroke="#cc2a3e" stroke-width="0.6"/>
<text x="235.2" y="534.7" font-size="4.9" fill="#5a6082" text-anchor="middle" >Fault</text>
<rect x="252.5" y="521" width="14" height="7.6" fill="#fff" stroke="#888" stroke-width="0.35"/>
<line x1="253.5" y1="527.6" x2="261.2" y2="524.8" stroke="#1c1c86" stroke-width="1.3" stroke-dasharray="2 1"/><polygon points="265.5,523.2 262.0,526.9 260.4,522.6" fill="#1c1c86"/>
<text x="259.5" y="534.7" font-size="4.9" fill="#5a6082" text-anchor="middle" >Migration</text>
<text x="259.5" y="539.4000000000001" font-size="4.9" fill="#5a6082" text-anchor="middle" >direction</text>
<rect x="280.1" y="521" width="14" height="7.6" fill="#fff" stroke="#888" stroke-width="0.35"/>
<circle cx="287.1" cy="524.8" r="2.7" fill="#0b7c8c" stroke="#1a1a1a" stroke-width="0.55"/><circle cx="287.1" cy="524.8" r="0.8" fill="#222" opacity="0.6"/>
<text x="287.1" y="534.7" font-size="4.9" fill="#5a6082" text-anchor="middle" >Type A</text>
<text x="287.1" y="539.4000000000001" font-size="4.9" fill="#5a6082" text-anchor="middle" >crude oil</text>
<rect x="310.4" y="521" width="14" height="7.6" fill="#fff" stroke="#888" stroke-width="0.35"/>
<circle cx="317.4" cy="524.8" r="2.7" fill="#2fb3e9" stroke="#1a1a1a" stroke-width="0.55"/><circle cx="317.4" cy="524.8" r="0.8" fill="#222" opacity="0.6"/>
<text x="317.4" y="534.7" font-size="4.9" fill="#5a6082" text-anchor="middle" >Type B</text>
<text x="317.4" y="539.4000000000001" font-size="4.9" fill="#5a6082" text-anchor="middle" >crude oil</text>
<rect x="339.9" y="521" width="14" height="7.6" fill="#fff" stroke="#888" stroke-width="0.35"/>
<circle cx="346.9" cy="524.8" r="2.7" fill="#d0409c" stroke="#1a1a1a" stroke-width="0.55"/><circle cx="346.9" cy="524.8" r="0.8" fill="#222" opacity="0.6"/>
<text x="346.9" y="534.7" font-size="4.9" fill="#5a6082" text-anchor="middle" >Type C</text>
<text x="346.9" y="539.4000000000001" font-size="4.9" fill="#5a6082" text-anchor="middle" >crude oil</text></svg></body></html>
